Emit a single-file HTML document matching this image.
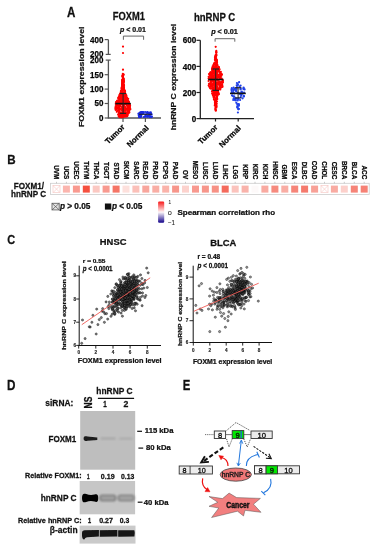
<!DOCTYPE html>
<html><head><meta charset="utf-8"><style>
html,body{margin:0;padding:0;background:#fff;}
svg{display:block;font-family:"Liberation Sans",Arial,sans-serif;}
</style></head><body>
<svg width="373" height="550" viewBox="0 0 373 550">
<rect width="373" height="550" fill="#fff"/>
<text font-size="100" font-weight="bold" fill="#111" stroke="#111" stroke-width="1.96" transform="translate(67.06 17.45) scale(0.11642 0.13913)">A</text>
<text font-size="100" font-weight="bold" fill="#111" stroke="#111" stroke-width="2.48" transform="translate(112.74 20.34) scale(0.09329 0.10845)">FOXM1</text>
<text font-size="100" font-weight="bold" fill="#111" stroke="#111" stroke-width="3.61" transform="translate(119.89 31.72) scale(0.07046 0.06813)"><tspan font-style="italic">p</tspan> &lt; 0.01</text>
<path d="M123.4 39.8 V36.1 H143.6 V39.8" fill="none" stroke="#555" stroke-width="0.9"/>
<text font-size="100" font-weight="bold" fill="#111" stroke="#111" stroke-width="3.18" transform="translate(84.39 127.12) rotate(-90) scale(0.08755 0.06952)">FOXM1 expression level</text>
<line x1="108.4" y1="39.6" x2="108.4" y2="54.4" stroke="#555" stroke-width="1.3"/>
<line x1="104.7" y1="39.6" x2="108.4" y2="39.6" stroke="#555" stroke-width="1.2"/>
<line x1="105.7" y1="54.4" x2="110.7" y2="54.4" stroke="#555" stroke-width="1.2"/>
<line x1="105.7" y1="60.1" x2="110.7" y2="60.1" stroke="#555" stroke-width="1.2"/>
<line x1="108.4" y1="60.1" x2="108.4" y2="118.2" stroke="#555" stroke-width="1.3"/>
<line x1="107.8" y1="118.0" x2="161.0" y2="118.0" stroke="#555" stroke-width="1.3"/>
<line x1="104.7" y1="74.7" x2="108.4" y2="74.7" stroke="#555" stroke-width="1.2"/>
<line x1="104.7" y1="89.1" x2="108.4" y2="89.1" stroke="#555" stroke-width="1.2"/>
<line x1="104.7" y1="103.5" x2="108.4" y2="103.5" stroke="#555" stroke-width="1.2"/>
<line x1="104.7" y1="118.0" x2="108.4" y2="118.0" stroke="#555" stroke-width="1.2"/>
<line x1="123.0" y1="118.0" x2="123.0" y2="122.0" stroke="#555" stroke-width="1.2"/>
<line x1="145.4" y1="118.0" x2="145.4" y2="122.0" stroke="#555" stroke-width="1.2"/>
<text x="103.4" y="77.5" font-size="8.3" font-weight="bold" text-anchor="end" textLength="13.350000000000001" lengthAdjust="spacingAndGlyphs" stroke="#111" stroke-width="0.25">150</text>
<text x="103.4" y="91.9" font-size="8.3" font-weight="bold" text-anchor="end" textLength="13.350000000000001" lengthAdjust="spacingAndGlyphs" stroke="#111" stroke-width="0.25">100</text>
<text x="103.4" y="106.3" font-size="8.3" font-weight="bold" text-anchor="end" textLength="8.9" lengthAdjust="spacingAndGlyphs" stroke="#111" stroke-width="0.25">50</text>
<text x="103.4" y="120.8" font-size="8.3" font-weight="bold" text-anchor="end" textLength="4.45" lengthAdjust="spacingAndGlyphs" stroke="#111" stroke-width="0.25">0</text>
<text x="103.4" y="42.8" font-size="8.3" font-weight="bold" text-anchor="end" textLength="13.3" lengthAdjust="spacingAndGlyphs" stroke="#111" stroke-width="0.25">400</text>
<text x="103.4" y="56.8" font-size="8.3" font-weight="bold" text-anchor="end" textLength="13.3" lengthAdjust="spacingAndGlyphs" stroke="#111" stroke-width="0.25">200</text>
<text x="103.4" y="62.6" font-size="8.3" font-weight="bold" text-anchor="end" textLength="13.3" lengthAdjust="spacingAndGlyphs" stroke="#111" stroke-width="0.25">200</text>
<text x="125.3" y="127.6" font-size="7.9" font-weight="bold" text-anchor="end" stroke="#111" stroke-width="0.25" transform="rotate(-45 125.3 127.6)">Tumor</text>
<text x="149.2" y="128.6" font-size="7.9" font-weight="bold" text-anchor="end" stroke="#111" stroke-width="0.25" transform="rotate(-45 149.2 128.6)">Normal</text>
<g fill="#f00"><circle cx="123.4" cy="87.6" r="1.1"/><circle cx="123.0" cy="89.5" r="1.1"/><circle cx="122.9" cy="76.5" r="1.1"/><circle cx="118.9" cy="109.8" r="1.1"/><circle cx="128.2" cy="98.8" r="1.1"/><circle cx="122.1" cy="86.1" r="1.1"/><circle cx="123.6" cy="101.5" r="1.1"/><circle cx="122.6" cy="76.2" r="1.1"/><circle cx="120.3" cy="103.3" r="1.1"/><circle cx="120.7" cy="99.2" r="1.1"/><circle cx="119.2" cy="108.4" r="1.1"/><circle cx="127.1" cy="98.7" r="1.1"/><circle cx="130.1" cy="105.5" r="1.1"/><circle cx="122.8" cy="106.7" r="1.1"/><circle cx="128.6" cy="107.0" r="1.1"/><circle cx="122.5" cy="99.6" r="1.1"/><circle cx="122.6" cy="110.4" r="1.1"/><circle cx="125.8" cy="102.6" r="1.1"/><circle cx="121.3" cy="109.6" r="1.1"/><circle cx="122.5" cy="102.8" r="1.1"/><circle cx="122.3" cy="80.8" r="1.1"/><circle cx="119.2" cy="107.2" r="1.1"/><circle cx="119.7" cy="109.4" r="1.1"/><circle cx="124.8" cy="91.7" r="1.1"/><circle cx="119.8" cy="115.5" r="1.1"/><circle cx="122.8" cy="85.0" r="1.1"/><circle cx="123.2" cy="115.3" r="1.1"/><circle cx="117.4" cy="100.6" r="1.1"/><circle cx="127.5" cy="113.0" r="1.1"/><circle cx="121.5" cy="108.5" r="1.1"/><circle cx="122.6" cy="76.1" r="1.1"/><circle cx="122.6" cy="75.7" r="1.1"/><circle cx="119.9" cy="100.4" r="1.1"/><circle cx="122.8" cy="117.1" r="1.1"/><circle cx="122.8" cy="77.2" r="1.1"/><circle cx="123.7" cy="80.5" r="1.1"/><circle cx="123.4" cy="96.6" r="1.1"/><circle cx="121.0" cy="104.0" r="1.1"/><circle cx="123.9" cy="87.9" r="1.1"/><circle cx="126.6" cy="108.9" r="1.1"/><circle cx="121.5" cy="89.0" r="1.1"/><circle cx="122.2" cy="103.9" r="1.1"/><circle cx="120.2" cy="115.4" r="1.1"/><circle cx="122.4" cy="83.4" r="1.1"/><circle cx="127.3" cy="100.9" r="1.1"/><circle cx="125.4" cy="108.6" r="1.1"/><circle cx="125.9" cy="113.4" r="1.1"/><circle cx="124.9" cy="94.4" r="1.1"/><circle cx="122.1" cy="116.2" r="1.1"/><circle cx="119.7" cy="115.1" r="1.1"/><circle cx="123.6" cy="79.0" r="1.1"/><circle cx="127.9" cy="108.9" r="1.1"/><circle cx="121.6" cy="116.5" r="1.1"/><circle cx="118.3" cy="97.5" r="1.1"/><circle cx="123.3" cy="116.1" r="1.1"/><circle cx="126.9" cy="114.5" r="1.1"/><circle cx="119.3" cy="109.8" r="1.1"/><circle cx="122.1" cy="99.2" r="1.1"/><circle cx="123.2" cy="95.5" r="1.1"/><circle cx="123.5" cy="81.5" r="1.1"/><circle cx="120.4" cy="105.3" r="1.1"/><circle cx="125.3" cy="96.2" r="1.1"/><circle cx="123.9" cy="107.4" r="1.1"/><circle cx="122.2" cy="106.8" r="1.1"/><circle cx="123.1" cy="100.4" r="1.1"/><circle cx="123.5" cy="103.9" r="1.1"/><circle cx="129.5" cy="104.2" r="1.1"/><circle cx="122.9" cy="79.4" r="1.1"/><circle cx="117.8" cy="107.9" r="1.1"/><circle cx="117.7" cy="104.9" r="1.1"/><circle cx="120.5" cy="96.1" r="1.1"/><circle cx="122.1" cy="92.8" r="1.1"/><circle cx="117.5" cy="100.9" r="1.1"/><circle cx="120.7" cy="116.2" r="1.1"/><circle cx="122.8" cy="85.3" r="1.1"/><circle cx="120.2" cy="113.5" r="1.1"/><circle cx="118.6" cy="98.5" r="1.1"/><circle cx="125.1" cy="92.1" r="1.1"/><circle cx="117.6" cy="101.3" r="1.1"/><circle cx="128.1" cy="111.1" r="1.1"/><circle cx="123.3" cy="93.4" r="1.1"/><circle cx="119.0" cy="114.2" r="1.1"/><circle cx="119.6" cy="96.6" r="1.1"/><circle cx="122.5" cy="80.5" r="1.1"/><circle cx="123.0" cy="106.8" r="1.1"/><circle cx="122.8" cy="97.6" r="1.1"/><circle cx="126.3" cy="114.5" r="1.1"/><circle cx="123.1" cy="110.1" r="1.1"/><circle cx="120.7" cy="103.7" r="1.1"/><circle cx="125.0" cy="110.0" r="1.1"/><circle cx="121.1" cy="91.2" r="1.1"/><circle cx="123.4" cy="79.1" r="1.1"/><circle cx="122.1" cy="84.6" r="1.1"/><circle cx="125.5" cy="110.4" r="1.1"/><circle cx="120.5" cy="116.2" r="1.1"/><circle cx="121.6" cy="115.9" r="1.1"/><circle cx="121.1" cy="94.3" r="1.1"/><circle cx="121.2" cy="95.6" r="1.1"/><circle cx="122.8" cy="75.2" r="1.1"/><circle cx="128.2" cy="102.3" r="1.1"/><circle cx="124.9" cy="90.5" r="1.1"/><circle cx="127.5" cy="101.7" r="1.1"/><circle cx="125.9" cy="112.6" r="1.1"/><circle cx="123.4" cy="109.1" r="1.1"/><circle cx="124.3" cy="108.8" r="1.1"/><circle cx="125.4" cy="112.7" r="1.1"/><circle cx="122.3" cy="83.5" r="1.1"/><circle cx="124.1" cy="89.3" r="1.1"/><circle cx="124.3" cy="98.0" r="1.1"/><circle cx="115.8" cy="103.3" r="1.1"/><circle cx="123.0" cy="108.5" r="1.1"/><circle cx="119.1" cy="96.9" r="1.1"/><circle cx="116.7" cy="105.8" r="1.1"/><circle cx="121.9" cy="116.3" r="1.1"/><circle cx="125.1" cy="107.1" r="1.1"/><circle cx="122.7" cy="76.8" r="1.1"/><circle cx="124.0" cy="106.1" r="1.1"/><circle cx="122.8" cy="73.9" r="1.1"/><circle cx="125.5" cy="103.0" r="1.1"/><circle cx="120.7" cy="93.8" r="1.1"/><circle cx="128.9" cy="112.7" r="1.1"/><circle cx="122.6" cy="114.6" r="1.1"/><circle cx="122.2" cy="109.5" r="1.1"/><circle cx="124.0" cy="85.2" r="1.1"/><circle cx="126.2" cy="115.3" r="1.1"/><circle cx="128.9" cy="104.3" r="1.1"/><circle cx="119.6" cy="94.8" r="1.1"/><circle cx="121.6" cy="95.0" r="1.1"/><circle cx="129.3" cy="110.3" r="1.1"/><circle cx="119.9" cy="104.8" r="1.1"/><circle cx="121.7" cy="117.3" r="1.1"/><circle cx="120.8" cy="92.2" r="1.1"/><circle cx="122.0" cy="95.9" r="1.1"/><circle cx="129.2" cy="109.1" r="1.1"/><circle cx="125.2" cy="114.8" r="1.1"/><circle cx="117.0" cy="101.8" r="1.1"/><circle cx="122.7" cy="114.2" r="1.1"/><circle cx="119.4" cy="105.9" r="1.1"/><circle cx="123.8" cy="102.3" r="1.1"/><circle cx="121.6" cy="90.8" r="1.1"/><circle cx="126.0" cy="95.3" r="1.1"/><circle cx="119.7" cy="117.2" r="1.1"/><circle cx="122.7" cy="81.9" r="1.1"/><circle cx="121.9" cy="112.4" r="1.1"/><circle cx="123.0" cy="116.0" r="1.1"/><circle cx="119.3" cy="101.1" r="1.1"/><circle cx="116.8" cy="111.8" r="1.1"/><circle cx="122.6" cy="104.6" r="1.1"/><circle cx="121.8" cy="99.2" r="1.1"/><circle cx="119.5" cy="111.0" r="1.1"/><circle cx="123.0" cy="78.2" r="1.1"/><circle cx="126.2" cy="103.4" r="1.1"/><circle cx="122.4" cy="101.9" r="1.1"/><circle cx="125.8" cy="97.7" r="1.1"/><circle cx="118.0" cy="101.8" r="1.1"/><circle cx="116.6" cy="104.1" r="1.1"/><circle cx="122.0" cy="96.5" r="1.1"/><circle cx="122.7" cy="101.8" r="1.1"/><circle cx="121.1" cy="115.7" r="1.1"/><circle cx="119.5" cy="103.1" r="1.1"/><circle cx="119.2" cy="102.8" r="1.1"/><circle cx="118.6" cy="105.9" r="1.1"/><circle cx="126.1" cy="116.1" r="1.1"/><circle cx="129.7" cy="106.9" r="1.1"/><circle cx="121.0" cy="95.2" r="1.1"/><circle cx="121.9" cy="115.1" r="1.1"/><circle cx="122.3" cy="79.6" r="1.1"/><circle cx="129.4" cy="112.3" r="1.1"/><circle cx="119.7" cy="114.4" r="1.1"/><circle cx="118.1" cy="114.6" r="1.1"/><circle cx="121.2" cy="102.6" r="1.1"/><circle cx="121.6" cy="88.0" r="1.1"/><circle cx="127.6" cy="115.4" r="1.1"/><circle cx="122.0" cy="109.5" r="1.1"/><circle cx="121.9" cy="112.9" r="1.1"/><circle cx="116.1" cy="109.1" r="1.1"/><circle cx="123.5" cy="74.9" r="1.1"/><circle cx="120.2" cy="112.9" r="1.1"/><circle cx="120.7" cy="115.5" r="1.1"/><circle cx="119.7" cy="104.9" r="1.1"/><circle cx="128.0" cy="113.7" r="1.1"/><circle cx="120.5" cy="115.4" r="1.1"/><circle cx="126.3" cy="114.2" r="1.1"/><circle cx="127.1" cy="105.9" r="1.1"/><circle cx="120.8" cy="100.1" r="1.1"/><circle cx="116.5" cy="106.5" r="1.1"/><circle cx="122.1" cy="85.1" r="1.1"/><circle cx="122.6" cy="93.1" r="1.1"/><circle cx="126.1" cy="100.7" r="1.1"/><circle cx="117.6" cy="110.7" r="1.1"/><circle cx="124.0" cy="110.4" r="1.1"/><circle cx="123.8" cy="84.2" r="1.1"/><circle cx="121.9" cy="98.8" r="1.1"/><circle cx="120.5" cy="117.1" r="1.1"/><circle cx="130.3" cy="109.0" r="1.1"/><circle cx="129.2" cy="109.4" r="1.1"/><circle cx="127.1" cy="116.2" r="1.1"/><circle cx="124.5" cy="93.2" r="1.1"/><circle cx="124.0" cy="115.0" r="1.1"/><circle cx="121.4" cy="100.7" r="1.1"/><circle cx="116.3" cy="102.1" r="1.1"/><circle cx="119.2" cy="97.5" r="1.1"/><circle cx="118.6" cy="101.5" r="1.1"/><circle cx="119.8" cy="104.0" r="1.1"/><circle cx="123.8" cy="89.4" r="1.1"/><circle cx="123.8" cy="82.4" r="1.1"/><circle cx="120.2" cy="93.7" r="1.1"/><circle cx="127.0" cy="97.7" r="1.1"/><circle cx="118.5" cy="108.8" r="1.1"/><circle cx="118.7" cy="116.3" r="1.1"/><circle cx="127.4" cy="114.2" r="1.1"/><circle cx="118.7" cy="100.7" r="1.1"/><circle cx="121.6" cy="108.0" r="1.1"/><circle cx="118.4" cy="110.6" r="1.1"/><circle cx="119.9" cy="96.2" r="1.1"/><circle cx="123.8" cy="112.9" r="1.1"/><circle cx="128.0" cy="106.7" r="1.1"/><circle cx="121.1" cy="97.6" r="1.1"/><circle cx="124.8" cy="94.9" r="1.1"/><circle cx="118.2" cy="107.7" r="1.1"/><circle cx="120.7" cy="94.2" r="1.1"/><circle cx="122.7" cy="92.3" r="1.1"/><circle cx="124.1" cy="95.8" r="1.1"/><circle cx="116.3" cy="107.6" r="1.1"/><circle cx="126.4" cy="95.6" r="1.1"/><circle cx="130.2" cy="109.3" r="1.1"/><circle cx="126.3" cy="113.7" r="1.1"/><circle cx="121.4" cy="114.3" r="1.1"/><circle cx="128.9" cy="106.7" r="1.1"/><circle cx="120.4" cy="113.9" r="1.1"/><circle cx="119.4" cy="95.7" r="1.1"/><circle cx="123.8" cy="81.4" r="1.1"/><circle cx="118.2" cy="103.3" r="1.1"/><circle cx="123.5" cy="107.9" r="1.1"/><circle cx="127.9" cy="101.4" r="1.1"/><circle cx="126.8" cy="97.8" r="1.1"/><circle cx="126.8" cy="101.1" r="1.1"/><circle cx="125.9" cy="98.8" r="1.1"/><circle cx="124.3" cy="92.9" r="1.1"/><circle cx="124.5" cy="116.7" r="1.1"/><circle cx="121.8" cy="87.2" r="1.1"/><circle cx="119.6" cy="112.8" r="1.1"/><circle cx="116.2" cy="102.1" r="1.1"/><circle cx="122.5" cy="89.0" r="1.1"/><circle cx="124.4" cy="99.3" r="1.1"/><circle cx="125.8" cy="94.3" r="1.1"/><circle cx="122.2" cy="84.1" r="1.1"/><circle cx="126.7" cy="101.5" r="1.1"/><circle cx="120.9" cy="91.1" r="1.1"/><circle cx="121.0" cy="101.8" r="1.1"/><circle cx="128.9" cy="101.8" r="1.1"/><circle cx="129.0" cy="105.7" r="1.1"/><circle cx="121.1" cy="91.3" r="1.1"/><circle cx="123.8" cy="107.7" r="1.1"/><circle cx="119.9" cy="114.8" r="1.1"/><circle cx="124.7" cy="100.2" r="1.1"/><circle cx="120.1" cy="109.2" r="1.1"/><circle cx="123.9" cy="86.6" r="1.1"/><circle cx="115.6" cy="107.9" r="1.1"/><circle cx="122.5" cy="110.6" r="1.1"/><circle cx="118.9" cy="106.0" r="1.1"/><circle cx="128.1" cy="106.4" r="1.1"/><circle cx="123.8" cy="104.7" r="1.1"/><circle cx="124.2" cy="96.4" r="1.1"/><circle cx="126.7" cy="115.9" r="1.1"/><circle cx="121.3" cy="115.0" r="1.1"/><circle cx="119.6" cy="112.1" r="1.1"/><circle cx="125.3" cy="113.3" r="1.1"/><circle cx="122.6" cy="102.7" r="1.1"/><circle cx="128.2" cy="110.3" r="1.1"/><circle cx="119.9" cy="98.5" r="1.1"/><circle cx="128.2" cy="100.8" r="1.1"/><circle cx="122.4" cy="79.8" r="1.1"/><circle cx="119.1" cy="114.3" r="1.1"/><circle cx="123.2" cy="74.7" r="1.1"/><circle cx="126.1" cy="101.3" r="1.1"/><circle cx="116.5" cy="109.5" r="1.1"/><circle cx="129.0" cy="111.6" r="1.1"/><circle cx="123.5" cy="78.3" r="1.1"/><circle cx="127.9" cy="109.1" r="1.1"/><circle cx="117.8" cy="101.2" r="1.1"/><circle cx="121.8" cy="92.0" r="1.1"/><circle cx="126.4" cy="115.8" r="1.1"/><circle cx="121.9" cy="100.6" r="1.1"/><circle cx="126.3" cy="97.1" r="1.1"/><circle cx="122.5" cy="80.9" r="1.1"/><circle cx="115.6" cy="106.9" r="1.1"/><circle cx="125.1" cy="95.0" r="1.1"/><circle cx="123.5" cy="85.9" r="1.1"/><circle cx="124.0" cy="95.3" r="1.1"/><circle cx="124.9" cy="104.1" r="1.1"/><circle cx="125.9" cy="95.5" r="1.1"/><circle cx="120.7" cy="106.5" r="1.1"/><circle cx="123.9" cy="87.8" r="1.1"/><circle cx="118.4" cy="102.5" r="1.1"/><circle cx="122.6" cy="98.9" r="1.1"/><circle cx="119.1" cy="112.3" r="1.1"/><circle cx="118.0" cy="110.5" r="1.1"/><circle cx="121.6" cy="96.4" r="1.1"/><circle cx="129.9" cy="105.5" r="1.1"/><circle cx="118.5" cy="105.7" r="1.1"/><circle cx="119.1" cy="101.5" r="1.1"/><circle cx="122.6" cy="90.5" r="1.1"/><circle cx="123.0" cy="108.2" r="1.1"/><circle cx="118.4" cy="101.2" r="1.1"/><circle cx="125.9" cy="100.0" r="1.1"/><circle cx="123.9" cy="113.4" r="1.1"/><circle cx="119.0" cy="106.4" r="1.1"/><circle cx="127.1" cy="105.2" r="1.1"/><circle cx="125.7" cy="104.2" r="1.1"/><circle cx="120.5" cy="101.6" r="1.1"/><circle cx="122.0" cy="101.0" r="1.1"/><circle cx="124.9" cy="107.8" r="1.1"/><circle cx="124.7" cy="114.3" r="1.1"/><circle cx="122.8" cy="107.6" r="1.1"/><circle cx="123.4" cy="116.3" r="1.1"/><circle cx="118.9" cy="114.8" r="1.1"/><circle cx="125.4" cy="98.7" r="1.1"/><circle cx="121.7" cy="109.9" r="1.1"/><circle cx="124.8" cy="115.1" r="1.1"/><circle cx="122.3" cy="89.0" r="1.1"/><circle cx="122.7" cy="91.0" r="1.1"/><circle cx="122.1" cy="88.9" r="1.1"/><circle cx="123.4" cy="106.0" r="1.1"/><circle cx="121.5" cy="90.6" r="1.1"/><circle cx="125.0" cy="107.6" r="1.1"/><circle cx="122.5" cy="109.4" r="1.1"/><circle cx="123.4" cy="81.6" r="1.1"/><circle cx="128.9" cy="102.4" r="1.1"/><circle cx="127.6" cy="111.0" r="1.1"/><circle cx="118.8" cy="113.3" r="1.1"/><circle cx="115.7" cy="110.0" r="1.1"/><circle cx="117.5" cy="102.3" r="1.1"/><circle cx="117.8" cy="107.6" r="1.1"/><circle cx="119.1" cy="113.2" r="1.1"/><circle cx="126.5" cy="112.6" r="1.1"/><circle cx="127.1" cy="102.8" r="1.1"/><circle cx="125.8" cy="110.3" r="1.1"/><circle cx="120.4" cy="97.8" r="1.1"/><circle cx="125.7" cy="95.3" r="1.1"/><circle cx="121.2" cy="102.7" r="1.1"/><circle cx="124.4" cy="101.4" r="1.1"/><circle cx="120.5" cy="103.4" r="1.1"/><circle cx="122.9" cy="116.6" r="1.1"/><circle cx="125.7" cy="112.9" r="1.1"/><circle cx="127.6" cy="100.9" r="1.1"/><circle cx="127.9" cy="109.8" r="1.1"/><circle cx="125.8" cy="116.3" r="1.1"/><circle cx="117.0" cy="101.3" r="1.1"/><circle cx="123.7" cy="105.2" r="1.1"/><circle cx="124.8" cy="113.9" r="1.1"/><circle cx="124.7" cy="108.1" r="1.1"/><circle cx="125.4" cy="100.5" r="1.1"/><circle cx="119.6" cy="99.6" r="1.1"/><circle cx="126.7" cy="102.7" r="1.1"/><circle cx="121.5" cy="113.6" r="1.1"/><circle cx="123.9" cy="109.6" r="1.1"/><circle cx="122.7" cy="92.0" r="1.1"/><circle cx="117.1" cy="101.6" r="1.1"/><circle cx="119.0" cy="98.4" r="1.1"/><circle cx="129.3" cy="109.1" r="1.1"/><circle cx="122.4" cy="93.0" r="1.1"/><circle cx="122.2" cy="116.6" r="1.1"/><circle cx="122.1" cy="82.7" r="1.1"/><circle cx="123.3" cy="79.1" r="1.1"/><circle cx="123.5" cy="81.6" r="1.1"/><circle cx="126.4" cy="104.8" r="1.1"/><circle cx="129.4" cy="104.6" r="1.1"/><circle cx="115.8" cy="105.0" r="1.1"/><circle cx="117.3" cy="102.0" r="1.1"/><circle cx="122.1" cy="94.8" r="1.1"/><circle cx="124.9" cy="98.7" r="1.1"/><circle cx="121.5" cy="101.1" r="1.1"/><circle cx="127.3" cy="108.0" r="1.1"/><circle cx="118.4" cy="98.3" r="1.1"/><circle cx="126.1" cy="116.3" r="1.1"/><circle cx="122.2" cy="99.9" r="1.1"/><circle cx="125.3" cy="112.5" r="1.1"/><circle cx="115.5" cy="108.9" r="1.1"/><circle cx="127.4" cy="99.2" r="1.1"/><circle cx="124.1" cy="109.1" r="1.1"/><circle cx="129.2" cy="108.9" r="1.1"/><circle cx="123.2" cy="88.7" r="1.1"/><circle cx="126.7" cy="108.5" r="1.1"/><circle cx="124.1" cy="114.4" r="1.1"/><circle cx="118.8" cy="103.2" r="1.1"/><circle cx="116.8" cy="108.2" r="1.1"/><circle cx="119.0" cy="108.9" r="1.1"/><circle cx="122.7" cy="112.3" r="1.1"/><circle cx="119.5" cy="99.3" r="1.1"/><circle cx="123.8" cy="80.0" r="1.1"/><circle cx="123.5" cy="89.9" r="1.1"/><circle cx="124.5" cy="108.0" r="1.1"/><circle cx="123.5" cy="74.3" r="1.1"/><circle cx="123.9" cy="111.5" r="1.1"/><circle cx="129.9" cy="107.2" r="1.1"/><circle cx="122.4" cy="84.6" r="1.1"/><circle cx="122.2" cy="81.4" r="1.1"/><circle cx="124.1" cy="113.4" r="1.1"/><circle cx="124.9" cy="90.9" r="1.1"/></g>
<g fill="#f00"><circle cx="123" cy="46.6" r="1.1"/><circle cx="123" cy="53" r="1.1"/><circle cx="123" cy="69.7" r="1.1"/></g>
<line x1="115.4" y1="103.6" x2="130.8" y2="103.6" stroke="#111" stroke-width="1.6"/>
<line x1="119.8" y1="93.5" x2="126.1" y2="93.5" stroke="#222" stroke-width="1.2"/>
<line x1="119.8" y1="113.4" x2="126.1" y2="113.4" stroke="#222" stroke-width="1.2"/>
<line x1="123.1" y1="93.5" x2="123.1" y2="113.4" stroke="#222" stroke-width="1.0"/>
<g fill="#1a2be0"><circle cx="147.3" cy="113.3" r="1.1"/><circle cx="143.9" cy="117.0" r="1.1"/><circle cx="151.7" cy="114.3" r="1.1"/><circle cx="139.1" cy="117.2" r="1.1"/><circle cx="150.9" cy="113.3" r="1.1"/><circle cx="139.2" cy="116.7" r="1.1"/><circle cx="147.4" cy="116.1" r="1.1"/><circle cx="140.6" cy="117.1" r="1.1"/><circle cx="147.8" cy="115.9" r="1.1"/><circle cx="148.9" cy="113.5" r="1.1"/><circle cx="142.1" cy="112.5" r="1.1"/><circle cx="140.9" cy="112.6" r="1.1"/><circle cx="147.8" cy="113.2" r="1.1"/><circle cx="141.3" cy="112.0" r="1.1"/><circle cx="141.6" cy="112.1" r="1.1"/><circle cx="150.7" cy="116.9" r="1.1"/><circle cx="139.9" cy="112.6" r="1.1"/><circle cx="147.1" cy="116.8" r="1.1"/><circle cx="149.8" cy="114.3" r="1.1"/><circle cx="140.5" cy="114.4" r="1.1"/><circle cx="148.3" cy="113.1" r="1.1"/><circle cx="150.4" cy="114.8" r="1.1"/><circle cx="140.7" cy="113.3" r="1.1"/><circle cx="143.1" cy="113.3" r="1.1"/><circle cx="142.9" cy="112.8" r="1.1"/><circle cx="151.9" cy="116.7" r="1.1"/><circle cx="147.7" cy="112.2" r="1.1"/><circle cx="142.5" cy="113.0" r="1.1"/><circle cx="143.6" cy="113.3" r="1.1"/><circle cx="151.2" cy="117.2" r="1.1"/><circle cx="150.8" cy="112.4" r="1.1"/><circle cx="142.6" cy="112.2" r="1.1"/><circle cx="149.6" cy="117.1" r="1.1"/><circle cx="138.6" cy="113.7" r="1.1"/><circle cx="141.1" cy="116.3" r="1.1"/><circle cx="141.6" cy="114.2" r="1.1"/><circle cx="141.0" cy="114.9" r="1.1"/><circle cx="141.3" cy="116.0" r="1.1"/><circle cx="146.9" cy="112.3" r="1.1"/><circle cx="141.4" cy="114.5" r="1.1"/><circle cx="149.6" cy="115.1" r="1.1"/><circle cx="139.5" cy="115.0" r="1.1"/><circle cx="148.4" cy="115.8" r="1.1"/><circle cx="143.2" cy="112.2" r="1.1"/><circle cx="145.3" cy="116.4" r="1.1"/><circle cx="145.1" cy="112.0" r="1.1"/><circle cx="141.1" cy="116.5" r="1.1"/><circle cx="140.8" cy="116.3" r="1.1"/><circle cx="138.7" cy="113.9" r="1.1"/><circle cx="145.6" cy="114.7" r="1.1"/><circle cx="149.7" cy="112.5" r="1.1"/><circle cx="148.3" cy="116.5" r="1.1"/><circle cx="139.4" cy="113.9" r="1.1"/><circle cx="145.3" cy="116.5" r="1.1"/><circle cx="145.9" cy="114.6" r="1.1"/><circle cx="141.6" cy="112.0" r="1.1"/><circle cx="142.0" cy="112.9" r="1.1"/><circle cx="139.9" cy="116.2" r="1.1"/><circle cx="138.8" cy="115.6" r="1.1"/><circle cx="145.7" cy="115.1" r="1.1"/></g>
<line x1="139.0" y1="114.3" x2="152.0" y2="114.3" stroke="#222" stroke-width="1.0"/>
<text font-size="100" font-weight="bold" fill="#111" stroke="#111" stroke-width="2.47" transform="translate(193.88 20.64) scale(0.09597 0.10612)">hnRNP C</text>
<text font-size="100" font-weight="bold" fill="#111" stroke="#111" stroke-width="3.66" transform="translate(211.18 33.50) scale(0.07240 0.06429)"><tspan font-style="italic">p</tspan> &lt; 0.01</text>
<path d="M215.1 41.7 V38.7 H234.8 V41.7" fill="none" stroke="#555" stroke-width="0.9"/>
<text font-size="100" font-weight="bold" fill="#111" stroke="#111" stroke-width="3.30" transform="translate(176.28 130.35) rotate(-90) scale(0.08618 0.06524)">hnRNP C expression level</text>
<line x1="200.3" y1="40.3" x2="200.3" y2="119.0" stroke="#222" stroke-width="1.3"/>
<line x1="199.7" y1="118.6" x2="254.0" y2="118.6" stroke="#222" stroke-width="1.3"/>
<line x1="196.5" y1="40.3" x2="200.3" y2="40.3" stroke="#222" stroke-width="1.2"/>
<text x="196.3" y="43.4" font-size="8.4" font-weight="bold" text-anchor="end" textLength="13.5" lengthAdjust="spacingAndGlyphs" stroke="#111" stroke-width="0.25">600</text>
<line x1="196.5" y1="66.4" x2="200.3" y2="66.4" stroke="#222" stroke-width="1.2"/>
<text x="196.3" y="69.5" font-size="8.4" font-weight="bold" text-anchor="end" textLength="13.5" lengthAdjust="spacingAndGlyphs" stroke="#111" stroke-width="0.25">400</text>
<line x1="196.5" y1="92.5" x2="200.3" y2="92.5" stroke="#222" stroke-width="1.2"/>
<text x="196.3" y="95.6" font-size="8.4" font-weight="bold" text-anchor="end" textLength="13.5" lengthAdjust="spacingAndGlyphs" stroke="#111" stroke-width="0.25">200</text>
<line x1="196.5" y1="118.6" x2="200.3" y2="118.6" stroke="#222" stroke-width="1.2"/>
<text x="196.3" y="121.7" font-size="8.4" font-weight="bold" text-anchor="end" textLength="4.5" lengthAdjust="spacingAndGlyphs" stroke="#111" stroke-width="0.25">0</text>
<line x1="215.5" y1="118.6" x2="215.5" y2="121.5" stroke="#222" stroke-width="1.2"/>
<line x1="238.2" y1="118.6" x2="238.2" y2="121.5" stroke="#222" stroke-width="1.2"/>
<text x="218.3" y="127.9" font-size="7.9" font-weight="bold" text-anchor="end" stroke="#111" stroke-width="0.25" transform="rotate(-45 218.3 127.9)">Tumor</text>
<text x="241.4" y="128.8" font-size="7.9" font-weight="bold" text-anchor="end" stroke="#111" stroke-width="0.25" transform="rotate(-45 241.4 128.8)">Normal</text>
<g fill="#f00"><circle cx="218.6" cy="93.0" r="1.1"/><circle cx="213.0" cy="93.9" r="1.1"/><circle cx="212.5" cy="80.5" r="1.1"/><circle cx="215.9" cy="102.5" r="1.1"/><circle cx="217.6" cy="95.6" r="1.1"/><circle cx="216.1" cy="76.1" r="1.1"/><circle cx="219.4" cy="74.6" r="1.1"/><circle cx="214.0" cy="71.2" r="1.1"/><circle cx="220.1" cy="77.0" r="1.1"/><circle cx="215.8" cy="101.7" r="1.1"/><circle cx="216.5" cy="65.8" r="1.1"/><circle cx="210.5" cy="72.7" r="1.1"/><circle cx="208.7" cy="76.8" r="1.1"/><circle cx="220.1" cy="88.8" r="1.1"/><circle cx="216.0" cy="103.9" r="1.1"/><circle cx="218.6" cy="67.3" r="1.1"/><circle cx="215.9" cy="88.1" r="1.1"/><circle cx="212.6" cy="76.9" r="1.1"/><circle cx="212.5" cy="69.2" r="1.1"/><circle cx="215.9" cy="86.5" r="1.1"/><circle cx="215.9" cy="67.0" r="1.1"/><circle cx="214.9" cy="59.8" r="1.1"/><circle cx="214.0" cy="68.5" r="1.1"/><circle cx="216.0" cy="65.5" r="1.1"/><circle cx="211.3" cy="85.1" r="1.1"/><circle cx="216.1" cy="93.5" r="1.1"/><circle cx="213.3" cy="87.6" r="1.1"/><circle cx="215.8" cy="65.4" r="1.1"/><circle cx="209.4" cy="73.9" r="1.1"/><circle cx="222.8" cy="80.3" r="1.1"/><circle cx="216.6" cy="60.4" r="1.1"/><circle cx="214.1" cy="77.3" r="1.1"/><circle cx="210.0" cy="77.2" r="1.1"/><circle cx="214.7" cy="95.1" r="1.1"/><circle cx="217.0" cy="72.0" r="1.1"/><circle cx="219.3" cy="81.9" r="1.1"/><circle cx="216.4" cy="105.7" r="1.1"/><circle cx="222.5" cy="86.0" r="1.1"/><circle cx="219.8" cy="85.2" r="1.1"/><circle cx="215.2" cy="73.6" r="1.1"/><circle cx="214.9" cy="94.2" r="1.1"/><circle cx="213.1" cy="84.2" r="1.1"/><circle cx="211.1" cy="80.8" r="1.1"/><circle cx="216.3" cy="69.1" r="1.1"/><circle cx="221.8" cy="85.7" r="1.1"/><circle cx="214.8" cy="105.4" r="1.1"/><circle cx="221.8" cy="84.7" r="1.1"/><circle cx="214.1" cy="81.9" r="1.1"/><circle cx="214.0" cy="72.3" r="1.1"/><circle cx="213.9" cy="82.4" r="1.1"/><circle cx="216.7" cy="74.9" r="1.1"/><circle cx="217.5" cy="80.1" r="1.1"/><circle cx="210.9" cy="82.7" r="1.1"/><circle cx="212.6" cy="76.1" r="1.1"/><circle cx="211.1" cy="81.5" r="1.1"/><circle cx="222.4" cy="87.0" r="1.1"/><circle cx="214.7" cy="89.0" r="1.1"/><circle cx="216.5" cy="98.1" r="1.1"/><circle cx="215.7" cy="90.9" r="1.1"/><circle cx="217.8" cy="84.0" r="1.1"/><circle cx="216.8" cy="82.7" r="1.1"/><circle cx="210.8" cy="75.5" r="1.1"/><circle cx="213.6" cy="96.4" r="1.1"/><circle cx="213.9" cy="99.2" r="1.1"/><circle cx="216.7" cy="97.1" r="1.1"/><circle cx="213.1" cy="72.1" r="1.1"/><circle cx="215.0" cy="85.8" r="1.1"/><circle cx="220.8" cy="74.0" r="1.1"/><circle cx="214.8" cy="85.8" r="1.1"/><circle cx="210.1" cy="88.0" r="1.1"/><circle cx="216.1" cy="99.8" r="1.1"/><circle cx="212.0" cy="74.2" r="1.1"/><circle cx="212.0" cy="79.9" r="1.1"/><circle cx="212.7" cy="68.3" r="1.1"/><circle cx="214.3" cy="82.9" r="1.1"/><circle cx="216.2" cy="54.8" r="1.1"/><circle cx="212.3" cy="71.9" r="1.1"/><circle cx="212.3" cy="67.9" r="1.1"/><circle cx="212.4" cy="90.7" r="1.1"/><circle cx="213.9" cy="93.2" r="1.1"/><circle cx="215.5" cy="100.9" r="1.1"/><circle cx="218.9" cy="94.2" r="1.1"/><circle cx="215.0" cy="81.1" r="1.1"/><circle cx="212.0" cy="86.1" r="1.1"/><circle cx="220.6" cy="87.3" r="1.1"/><circle cx="219.7" cy="83.4" r="1.1"/><circle cx="216.6" cy="74.0" r="1.1"/><circle cx="212.1" cy="69.5" r="1.1"/><circle cx="212.1" cy="70.1" r="1.1"/><circle cx="215.7" cy="84.6" r="1.1"/><circle cx="214.2" cy="68.7" r="1.1"/><circle cx="216.8" cy="64.5" r="1.1"/><circle cx="218.7" cy="67.8" r="1.1"/><circle cx="215.1" cy="102.5" r="1.1"/><circle cx="214.9" cy="90.7" r="1.1"/><circle cx="213.3" cy="90.4" r="1.1"/><circle cx="211.2" cy="88.6" r="1.1"/><circle cx="212.3" cy="93.6" r="1.1"/><circle cx="215.2" cy="60.6" r="1.1"/><circle cx="213.3" cy="73.7" r="1.1"/><circle cx="219.4" cy="89.1" r="1.1"/><circle cx="212.1" cy="85.1" r="1.1"/><circle cx="213.5" cy="77.0" r="1.1"/><circle cx="213.7" cy="97.4" r="1.1"/><circle cx="216.8" cy="95.8" r="1.1"/><circle cx="220.1" cy="74.5" r="1.1"/><circle cx="218.9" cy="67.7" r="1.1"/><circle cx="218.5" cy="76.3" r="1.1"/><circle cx="210.5" cy="88.5" r="1.1"/><circle cx="215.8" cy="92.7" r="1.1"/><circle cx="216.1" cy="106.5" r="1.1"/><circle cx="215.9" cy="99.2" r="1.1"/><circle cx="209.3" cy="83.5" r="1.1"/><circle cx="212.2" cy="72.3" r="1.1"/><circle cx="217.5" cy="69.5" r="1.1"/><circle cx="213.3" cy="91.1" r="1.1"/><circle cx="222.1" cy="81.8" r="1.1"/><circle cx="220.0" cy="72.0" r="1.1"/><circle cx="210.9" cy="83.7" r="1.1"/><circle cx="215.3" cy="90.8" r="1.1"/><circle cx="210.5" cy="72.5" r="1.1"/><circle cx="217.2" cy="67.7" r="1.1"/><circle cx="213.1" cy="77.7" r="1.1"/><circle cx="210.9" cy="79.0" r="1.1"/><circle cx="216.5" cy="55.2" r="1.1"/><circle cx="216.9" cy="95.9" r="1.1"/><circle cx="216.3" cy="76.9" r="1.1"/><circle cx="220.3" cy="89.5" r="1.1"/><circle cx="213.2" cy="90.0" r="1.1"/><circle cx="216.3" cy="59.2" r="1.1"/><circle cx="218.8" cy="70.5" r="1.1"/><circle cx="216.2" cy="70.1" r="1.1"/><circle cx="212.5" cy="73.0" r="1.1"/><circle cx="218.1" cy="88.5" r="1.1"/><circle cx="210.7" cy="80.5" r="1.1"/><circle cx="212.3" cy="68.8" r="1.1"/><circle cx="215.2" cy="92.1" r="1.1"/><circle cx="215.2" cy="109.0" r="1.1"/><circle cx="219.0" cy="77.2" r="1.1"/><circle cx="218.1" cy="76.4" r="1.1"/><circle cx="213.3" cy="81.7" r="1.1"/><circle cx="220.5" cy="77.2" r="1.1"/><circle cx="215.3" cy="105.0" r="1.1"/><circle cx="213.5" cy="77.4" r="1.1"/><circle cx="215.1" cy="62.6" r="1.1"/><circle cx="221.7" cy="78.5" r="1.1"/><circle cx="216.3" cy="99.5" r="1.1"/><circle cx="216.6" cy="87.4" r="1.1"/><circle cx="214.1" cy="89.7" r="1.1"/><circle cx="215.0" cy="103.9" r="1.1"/><circle cx="212.0" cy="91.6" r="1.1"/><circle cx="216.5" cy="90.5" r="1.1"/><circle cx="216.6" cy="75.8" r="1.1"/><circle cx="211.4" cy="74.6" r="1.1"/><circle cx="215.9" cy="66.1" r="1.1"/><circle cx="216.0" cy="66.0" r="1.1"/><circle cx="214.4" cy="86.1" r="1.1"/><circle cx="218.0" cy="94.1" r="1.1"/><circle cx="221.8" cy="74.4" r="1.1"/><circle cx="210.4" cy="84.6" r="1.1"/><circle cx="214.5" cy="97.4" r="1.1"/><circle cx="216.9" cy="73.2" r="1.1"/><circle cx="216.6" cy="63.7" r="1.1"/><circle cx="217.5" cy="76.4" r="1.1"/><circle cx="217.6" cy="71.3" r="1.1"/><circle cx="215.3" cy="100.4" r="1.1"/><circle cx="216.4" cy="94.1" r="1.1"/><circle cx="217.3" cy="99.0" r="1.1"/><circle cx="212.9" cy="91.3" r="1.1"/><circle cx="216.9" cy="77.7" r="1.1"/><circle cx="215.0" cy="57.7" r="1.1"/><circle cx="215.9" cy="98.9" r="1.1"/><circle cx="220.5" cy="73.7" r="1.1"/><circle cx="220.2" cy="83.2" r="1.1"/><circle cx="215.5" cy="107.7" r="1.1"/><circle cx="216.2" cy="53.0" r="1.1"/><circle cx="215.5" cy="91.6" r="1.1"/><circle cx="217.2" cy="74.5" r="1.1"/><circle cx="210.9" cy="86.2" r="1.1"/><circle cx="216.6" cy="72.5" r="1.1"/><circle cx="209.2" cy="74.1" r="1.1"/><circle cx="208.7" cy="85.6" r="1.1"/><circle cx="209.1" cy="78.4" r="1.1"/><circle cx="215.7" cy="67.2" r="1.1"/><circle cx="222.9" cy="82.5" r="1.1"/><circle cx="213.2" cy="88.9" r="1.1"/><circle cx="216.5" cy="95.2" r="1.1"/><circle cx="214.7" cy="71.9" r="1.1"/><circle cx="212.0" cy="79.7" r="1.1"/><circle cx="213.7" cy="65.0" r="1.1"/><circle cx="216.7" cy="78.0" r="1.1"/><circle cx="212.1" cy="69.0" r="1.1"/><circle cx="217.6" cy="69.0" r="1.1"/><circle cx="213.4" cy="83.9" r="1.1"/><circle cx="215.8" cy="55.7" r="1.1"/><circle cx="215.7" cy="102.9" r="1.1"/><circle cx="213.6" cy="66.3" r="1.1"/><circle cx="214.3" cy="64.0" r="1.1"/><circle cx="217.7" cy="87.0" r="1.1"/><circle cx="215.8" cy="59.1" r="1.1"/><circle cx="217.5" cy="89.8" r="1.1"/><circle cx="214.8" cy="71.1" r="1.1"/><circle cx="216.7" cy="70.9" r="1.1"/><circle cx="212.7" cy="66.3" r="1.1"/><circle cx="215.8" cy="110.1" r="1.1"/><circle cx="212.9" cy="94.3" r="1.1"/><circle cx="216.3" cy="60.3" r="1.1"/><circle cx="217.0" cy="76.3" r="1.1"/><circle cx="217.2" cy="84.1" r="1.1"/><circle cx="213.3" cy="70.7" r="1.1"/><circle cx="216.9" cy="97.4" r="1.1"/><circle cx="218.8" cy="67.6" r="1.1"/><circle cx="215.7" cy="58.8" r="1.1"/><circle cx="215.1" cy="56.3" r="1.1"/><circle cx="222.1" cy="84.2" r="1.1"/><circle cx="211.8" cy="72.8" r="1.1"/><circle cx="216.4" cy="60.6" r="1.1"/><circle cx="213.4" cy="80.8" r="1.1"/><circle cx="209.6" cy="75.0" r="1.1"/><circle cx="221.8" cy="84.7" r="1.1"/><circle cx="214.5" cy="64.3" r="1.1"/><circle cx="211.4" cy="76.9" r="1.1"/><circle cx="215.6" cy="67.8" r="1.1"/><circle cx="216.1" cy="104.3" r="1.1"/><circle cx="216.8" cy="86.7" r="1.1"/><circle cx="216.6" cy="103.8" r="1.1"/><circle cx="220.0" cy="72.5" r="1.1"/><circle cx="216.4" cy="52.4" r="1.1"/><circle cx="216.0" cy="56.7" r="1.1"/><circle cx="213.6" cy="64.8" r="1.1"/><circle cx="213.6" cy="80.9" r="1.1"/><circle cx="213.5" cy="80.6" r="1.1"/><circle cx="214.1" cy="67.3" r="1.1"/><circle cx="215.7" cy="55.0" r="1.1"/><circle cx="213.8" cy="75.3" r="1.1"/><circle cx="216.2" cy="90.0" r="1.1"/><circle cx="214.6" cy="74.8" r="1.1"/><circle cx="211.1" cy="74.0" r="1.1"/><circle cx="215.8" cy="110.7" r="1.1"/><circle cx="212.3" cy="87.5" r="1.1"/><circle cx="217.0" cy="62.8" r="1.1"/><circle cx="216.2" cy="70.3" r="1.1"/><circle cx="211.8" cy="86.4" r="1.1"/><circle cx="214.3" cy="88.6" r="1.1"/><circle cx="215.9" cy="93.6" r="1.1"/><circle cx="213.4" cy="87.6" r="1.1"/><circle cx="212.5" cy="88.6" r="1.1"/><circle cx="221.0" cy="87.6" r="1.1"/><circle cx="216.0" cy="79.2" r="1.1"/><circle cx="210.5" cy="79.4" r="1.1"/><circle cx="220.3" cy="82.3" r="1.1"/><circle cx="217.5" cy="65.2" r="1.1"/><circle cx="220.5" cy="78.5" r="1.1"/><circle cx="215.2" cy="58.3" r="1.1"/><circle cx="214.2" cy="78.0" r="1.1"/><circle cx="220.1" cy="77.8" r="1.1"/><circle cx="216.7" cy="96.4" r="1.1"/><circle cx="212.5" cy="72.9" r="1.1"/><circle cx="214.2" cy="73.1" r="1.1"/><circle cx="211.0" cy="85.1" r="1.1"/><circle cx="214.4" cy="93.9" r="1.1"/><circle cx="215.5" cy="102.3" r="1.1"/><circle cx="215.0" cy="73.2" r="1.1"/><circle cx="213.2" cy="72.9" r="1.1"/><circle cx="220.1" cy="75.3" r="1.1"/><circle cx="216.6" cy="72.0" r="1.1"/><circle cx="216.5" cy="106.3" r="1.1"/><circle cx="216.9" cy="93.5" r="1.1"/><circle cx="218.2" cy="70.6" r="1.1"/><circle cx="215.7" cy="73.6" r="1.1"/><circle cx="220.7" cy="78.6" r="1.1"/><circle cx="221.3" cy="75.8" r="1.1"/><circle cx="215.9" cy="77.2" r="1.1"/><circle cx="212.9" cy="95.3" r="1.1"/><circle cx="218.1" cy="91.6" r="1.1"/><circle cx="214.4" cy="97.0" r="1.1"/><circle cx="216.1" cy="57.0" r="1.1"/><circle cx="218.3" cy="84.7" r="1.1"/><circle cx="212.4" cy="93.5" r="1.1"/><circle cx="216.4" cy="92.3" r="1.1"/><circle cx="215.3" cy="103.1" r="1.1"/><circle cx="222.8" cy="81.9" r="1.1"/><circle cx="214.4" cy="67.4" r="1.1"/><circle cx="214.5" cy="84.2" r="1.1"/><circle cx="214.9" cy="102.2" r="1.1"/><circle cx="215.6" cy="73.3" r="1.1"/><circle cx="220.1" cy="85.9" r="1.1"/><circle cx="213.0" cy="84.2" r="1.1"/><circle cx="216.6" cy="82.8" r="1.1"/><circle cx="218.5" cy="70.3" r="1.1"/><circle cx="214.9" cy="78.1" r="1.1"/><circle cx="215.5" cy="103.5" r="1.1"/><circle cx="219.7" cy="89.2" r="1.1"/><circle cx="215.7" cy="84.5" r="1.1"/><circle cx="213.8" cy="91.3" r="1.1"/><circle cx="214.0" cy="63.3" r="1.1"/><circle cx="212.2" cy="75.7" r="1.1"/><circle cx="216.2" cy="60.2" r="1.1"/><circle cx="216.3" cy="68.5" r="1.1"/><circle cx="212.6" cy="70.0" r="1.1"/><circle cx="216.6" cy="101.3" r="1.1"/><circle cx="216.2" cy="89.3" r="1.1"/><circle cx="216.9" cy="94.5" r="1.1"/><circle cx="213.5" cy="82.4" r="1.1"/><circle cx="215.7" cy="106.6" r="1.1"/><circle cx="210.4" cy="83.3" r="1.1"/><circle cx="216.9" cy="101.5" r="1.1"/><circle cx="219.2" cy="77.8" r="1.1"/><circle cx="216.2" cy="68.8" r="1.1"/><circle cx="215.9" cy="78.5" r="1.1"/><circle cx="217.5" cy="72.0" r="1.1"/><circle cx="216.8" cy="60.7" r="1.1"/><circle cx="216.6" cy="59.8" r="1.1"/><circle cx="215.2" cy="83.0" r="1.1"/><circle cx="211.3" cy="81.3" r="1.1"/><circle cx="210.5" cy="75.1" r="1.1"/><circle cx="208.6" cy="81.0" r="1.1"/><circle cx="217.8" cy="92.2" r="1.1"/><circle cx="221.4" cy="81.9" r="1.1"/><circle cx="209.3" cy="86.8" r="1.1"/><circle cx="219.6" cy="87.9" r="1.1"/><circle cx="208.6" cy="78.6" r="1.1"/><circle cx="212.1" cy="75.3" r="1.1"/><circle cx="215.1" cy="59.3" r="1.1"/><circle cx="219.8" cy="79.6" r="1.1"/><circle cx="217.1" cy="89.0" r="1.1"/><circle cx="220.8" cy="71.8" r="1.1"/><circle cx="219.9" cy="77.0" r="1.1"/><circle cx="216.4" cy="107.6" r="1.1"/><circle cx="217.0" cy="98.1" r="1.1"/><circle cx="215.5" cy="64.8" r="1.1"/><circle cx="217.8" cy="93.5" r="1.1"/><circle cx="217.8" cy="75.2" r="1.1"/><circle cx="219.9" cy="86.5" r="1.1"/><circle cx="216.2" cy="51.9" r="1.1"/><circle cx="215.1" cy="76.0" r="1.1"/><circle cx="214.2" cy="71.0" r="1.1"/><circle cx="213.9" cy="68.4" r="1.1"/><circle cx="217.0" cy="92.9" r="1.1"/><circle cx="216.4" cy="99.2" r="1.1"/><circle cx="217.0" cy="61.9" r="1.1"/><circle cx="220.3" cy="72.6" r="1.1"/><circle cx="214.3" cy="87.5" r="1.1"/><circle cx="215.8" cy="80.8" r="1.1"/><circle cx="215.8" cy="100.7" r="1.1"/><circle cx="216.3" cy="50.9" r="1.1"/><circle cx="212.1" cy="78.1" r="1.1"/><circle cx="216.3" cy="72.0" r="1.1"/><circle cx="220.7" cy="73.5" r="1.1"/><circle cx="216.9" cy="90.8" r="1.1"/><circle cx="213.7" cy="77.5" r="1.1"/><circle cx="214.5" cy="90.5" r="1.1"/><circle cx="221.6" cy="82.2" r="1.1"/><circle cx="222.7" cy="80.7" r="1.1"/><circle cx="215.2" cy="91.8" r="1.1"/><circle cx="215.9" cy="104.3" r="1.1"/><circle cx="214.1" cy="85.4" r="1.1"/><circle cx="215.1" cy="68.3" r="1.1"/><circle cx="216.2" cy="67.5" r="1.1"/><circle cx="215.9" cy="71.7" r="1.1"/><circle cx="216.3" cy="103.5" r="1.1"/><circle cx="215.5" cy="62.7" r="1.1"/><circle cx="221.9" cy="74.5" r="1.1"/><circle cx="218.4" cy="66.9" r="1.1"/><circle cx="217.7" cy="77.9" r="1.1"/><circle cx="214.2" cy="97.5" r="1.1"/><circle cx="219.4" cy="84.4" r="1.1"/><circle cx="218.6" cy="67.4" r="1.1"/><circle cx="217.6" cy="82.6" r="1.1"/><circle cx="222.1" cy="84.8" r="1.1"/><circle cx="212.9" cy="66.8" r="1.1"/><circle cx="218.3" cy="83.8" r="1.1"/><circle cx="210.1" cy="75.6" r="1.1"/><circle cx="219.6" cy="69.3" r="1.1"/><circle cx="218.8" cy="88.9" r="1.1"/><circle cx="219.0" cy="74.5" r="1.1"/><circle cx="218.9" cy="71.4" r="1.1"/><circle cx="219.8" cy="71.8" r="1.1"/><circle cx="218.2" cy="82.8" r="1.1"/><circle cx="215.4" cy="104.9" r="1.1"/><circle cx="218.2" cy="81.0" r="1.1"/><circle cx="216.8" cy="85.5" r="1.1"/><circle cx="213.9" cy="93.1" r="1.1"/><circle cx="214.7" cy="100.3" r="1.1"/><circle cx="216.6" cy="64.3" r="1.1"/><circle cx="210.7" cy="72.4" r="1.1"/><circle cx="209.0" cy="84.1" r="1.1"/><circle cx="214.8" cy="100.5" r="1.1"/><circle cx="213.7" cy="88.6" r="1.1"/><circle cx="220.0" cy="85.0" r="1.1"/><circle cx="217.6" cy="76.3" r="1.1"/><circle cx="216.9" cy="74.9" r="1.1"/><circle cx="215.7" cy="110.0" r="1.1"/><circle cx="211.2" cy="78.1" r="1.1"/><circle cx="211.5" cy="75.0" r="1.1"/><circle cx="215.3" cy="95.0" r="1.1"/><circle cx="215.9" cy="62.7" r="1.1"/><circle cx="213.6" cy="94.0" r="1.1"/><circle cx="213.5" cy="66.7" r="1.1"/><circle cx="213.0" cy="69.2" r="1.1"/></g>
<circle cx="215.7" cy="46.8" r="1.1" fill="#f00"/>
<line x1="208.2" y1="79.5" x2="223.4" y2="79.5" stroke="#111" stroke-width="1.6"/>
<line x1="212.5" y1="69.0" x2="219.0" y2="69.0" stroke="#222" stroke-width="1.2"/>
<line x1="212.5" y1="90.4" x2="219.0" y2="90.4" stroke="#222" stroke-width="1.2"/>
<line x1="215.7" y1="69.0" x2="215.7" y2="90.4" stroke="#222" stroke-width="1.0"/>
<g fill="#2040e8"><circle cx="242.3" cy="92.5" r="1.1"/><circle cx="232.6" cy="95.8" r="1.1"/><circle cx="243.9" cy="96.3" r="1.1"/><circle cx="237.5" cy="107.8" r="1.1"/><circle cx="234.8" cy="99.3" r="1.1"/><circle cx="243.5" cy="89.1" r="1.1"/><circle cx="236.7" cy="85.3" r="1.1"/><circle cx="233.2" cy="100.0" r="1.1"/><circle cx="243.6" cy="96.1" r="1.1"/><circle cx="235.7" cy="98.4" r="1.1"/><circle cx="233.9" cy="96.7" r="1.1"/><circle cx="236.6" cy="88.9" r="1.1"/><circle cx="237.9" cy="85.0" r="1.1"/><circle cx="240.1" cy="100.0" r="1.1"/><circle cx="241.2" cy="95.3" r="1.1"/><circle cx="241.1" cy="94.0" r="1.1"/><circle cx="240.6" cy="88.7" r="1.1"/><circle cx="243.9" cy="96.3" r="1.1"/><circle cx="235.8" cy="100.5" r="1.1"/><circle cx="242.6" cy="93.7" r="1.1"/><circle cx="239.1" cy="82.2" r="1.1"/><circle cx="237.4" cy="107.1" r="1.1"/><circle cx="234.4" cy="88.8" r="1.1"/><circle cx="231.7" cy="89.5" r="1.1"/><circle cx="238.9" cy="105.7" r="1.1"/><circle cx="238.7" cy="104.1" r="1.1"/><circle cx="238.1" cy="99.1" r="1.1"/><circle cx="237.4" cy="107.0" r="1.1"/><circle cx="236.8" cy="98.7" r="1.1"/><circle cx="233.6" cy="87.7" r="1.1"/><circle cx="241.2" cy="92.4" r="1.1"/><circle cx="233.4" cy="90.8" r="1.1"/><circle cx="237.4" cy="106.0" r="1.1"/><circle cx="237.7" cy="100.5" r="1.1"/><circle cx="240.2" cy="94.2" r="1.1"/><circle cx="235.8" cy="90.7" r="1.1"/><circle cx="231.8" cy="89.1" r="1.1"/><circle cx="243.6" cy="88.4" r="1.1"/><circle cx="241.8" cy="91.6" r="1.1"/><circle cx="242.6" cy="98.3" r="1.1"/><circle cx="236.3" cy="91.2" r="1.1"/><circle cx="233.6" cy="98.5" r="1.1"/><circle cx="238.6" cy="98.3" r="1.1"/><circle cx="237.9" cy="112.5" r="1.1"/><circle cx="231.6" cy="90.3" r="1.1"/><circle cx="244.6" cy="89.4" r="1.1"/><circle cx="239.5" cy="86.7" r="1.1"/><circle cx="240.6" cy="89.3" r="1.1"/><circle cx="243.6" cy="87.7" r="1.1"/><circle cx="236.9" cy="83.0" r="1.1"/><circle cx="232.8" cy="92.7" r="1.1"/><circle cx="240.8" cy="97.0" r="1.1"/><circle cx="233.8" cy="89.8" r="1.1"/><circle cx="237.8" cy="84.2" r="1.1"/><circle cx="238.9" cy="104.7" r="1.1"/><circle cx="231.7" cy="92.1" r="1.1"/><circle cx="236.3" cy="102.8" r="1.1"/><circle cx="235.0" cy="100.1" r="1.1"/><circle cx="240.6" cy="85.6" r="1.1"/><circle cx="239.1" cy="93.4" r="1.1"/><circle cx="231.8" cy="88.2" r="1.1"/><circle cx="238.7" cy="108.8" r="1.1"/><circle cx="233.2" cy="92.8" r="1.1"/><circle cx="232.8" cy="92.9" r="1.1"/><circle cx="235.3" cy="89.0" r="1.1"/><circle cx="234.3" cy="93.4" r="1.1"/><circle cx="237.0" cy="87.2" r="1.1"/><circle cx="237.7" cy="92.8" r="1.1"/><circle cx="238.3" cy="109.3" r="1.1"/><circle cx="237.3" cy="104.2" r="1.1"/><circle cx="234.3" cy="96.6" r="1.1"/><circle cx="232.0" cy="95.3" r="1.1"/><circle cx="244.1" cy="92.7" r="1.1"/><circle cx="234.7" cy="99.0" r="1.1"/><circle cx="238.7" cy="109.0" r="1.1"/></g>
<line x1="230.0" y1="93.4" x2="245.8" y2="93.4" stroke="#111" stroke-width="1.6"/>
<line x1="234.8" y1="87.7" x2="241.4" y2="87.7" stroke="#222" stroke-width="1.1"/>
<line x1="234.8" y1="97.9" x2="241.4" y2="97.9" stroke="#222" stroke-width="1.1"/>
<line x1="238.1" y1="87.7" x2="238.1" y2="97.9" stroke="#222" stroke-width="1.0"/>
<text font-size="100" font-weight="bold" fill="#111" stroke="#111" stroke-width="2.09" transform="translate(7.29 163.85) scale(0.11639 0.12319)">B</text>
<text font-size="100" font-weight="bold" fill="#111" stroke="#111" stroke-width="3.04" transform="translate(13.82 188.88) scale(0.08110 0.08322)">FOXM1/</text>
<text font-size="100" font-weight="bold" fill="#111" stroke="#111" stroke-width="3.02" transform="translate(11.08 196.57) scale(0.08128 0.08435)">hnRNP C</text>
<rect x="50.4" y="183.3" width="318.8" height="11.1" fill="none" stroke="#ccc" stroke-width="0.8"/>
<line x1="56.5" y1="183.3" x2="56.5" y2="181.8" stroke="#aaa" stroke-width="0.6"/>
<text x="54.1" y="179.2" font-size="6.3" font-weight="bold" text-anchor="end" stroke="#111" stroke-width="0.25" transform="rotate(90 54.1 179.2)">UVM</text>
<rect x="53.0" y="185.6" width="7.0" height="7.0" fill="#fff" stroke="#f6c4c0" stroke-width="0.6"/>
<line x1="53.0" y1="185.6" x2="60.0" y2="192.6" stroke="#f6c4c0" stroke-width="0.6"/>
<line x1="60.0" y1="185.6" x2="53.0" y2="192.6" stroke="#f6c4c0" stroke-width="0.6"/>
<line x1="66.4" y1="183.3" x2="66.4" y2="181.8" stroke="#aaa" stroke-width="0.6"/>
<text x="64.0" y="179.2" font-size="6.3" font-weight="bold" text-anchor="end" stroke="#111" stroke-width="0.25" transform="rotate(90 64.0 179.2)">UCS</text>
<rect x="62.9" y="185.6" width="7.0" height="7.0" fill="#fbb5ae"/>
<line x1="76.4" y1="183.3" x2="76.4" y2="181.8" stroke="#aaa" stroke-width="0.6"/>
<text x="74.0" y="179.2" font-size="6.3" font-weight="bold" text-anchor="end" stroke="#111" stroke-width="0.25" transform="rotate(90 74.0 179.2)">UCEC</text>
<rect x="72.9" y="185.6" width="7.0" height="7.0" fill="#f99a90"/>
<line x1="86.3" y1="183.3" x2="86.3" y2="181.8" stroke="#aaa" stroke-width="0.6"/>
<text x="83.9" y="179.2" font-size="6.3" font-weight="bold" text-anchor="end" stroke="#111" stroke-width="0.25" transform="rotate(90 83.9 179.2)">THYM</text>
<rect x="82.8" y="185.6" width="7.0" height="7.0" fill="#f5503f"/>
<line x1="96.2" y1="183.3" x2="96.2" y2="181.8" stroke="#aaa" stroke-width="0.6"/>
<text x="93.8" y="179.2" font-size="6.3" font-weight="bold" text-anchor="end" stroke="#111" stroke-width="0.25" transform="rotate(90 93.8 179.2)">THCA</text>
<rect x="92.7" y="185.6" width="7.0" height="7.0" fill="#fbc8c2"/>
<line x1="106.1" y1="183.3" x2="106.1" y2="181.8" stroke="#aaa" stroke-width="0.6"/>
<text x="103.7" y="179.2" font-size="6.3" font-weight="bold" text-anchor="end" stroke="#111" stroke-width="0.25" transform="rotate(90 103.7 179.2)">TGCT</text>
<rect x="102.6" y="185.6" width="7.0" height="7.0" fill="#f89a90"/>
<line x1="116.1" y1="183.3" x2="116.1" y2="181.8" stroke="#aaa" stroke-width="0.6"/>
<text x="113.7" y="179.2" font-size="6.3" font-weight="bold" text-anchor="end" stroke="#111" stroke-width="0.25" transform="rotate(90 113.7 179.2)">STAD</text>
<rect x="112.6" y="185.6" width="7.0" height="7.0" fill="#f57566"/>
<line x1="126.0" y1="183.3" x2="126.0" y2="181.8" stroke="#aaa" stroke-width="0.6"/>
<text x="123.6" y="179.2" font-size="6.3" font-weight="bold" text-anchor="end" stroke="#111" stroke-width="0.25" transform="rotate(90 123.6 179.2)">SKCM</text>
<rect x="122.5" y="185.6" width="7.0" height="7.0" fill="#fde0dc"/>
<line x1="135.9" y1="183.3" x2="135.9" y2="181.8" stroke="#aaa" stroke-width="0.6"/>
<text x="133.5" y="179.2" font-size="6.3" font-weight="bold" text-anchor="end" stroke="#111" stroke-width="0.25" transform="rotate(90 133.5 179.2)">SARC</text>
<rect x="132.4" y="185.6" width="7.0" height="7.0" fill="#fbc0b9"/>
<line x1="145.8" y1="183.3" x2="145.8" y2="181.8" stroke="#aaa" stroke-width="0.6"/>
<text x="143.4" y="179.2" font-size="6.3" font-weight="bold" text-anchor="end" stroke="#111" stroke-width="0.25" transform="rotate(90 143.4 179.2)">READ</text>
<rect x="142.3" y="185.6" width="7.0" height="7.0" fill="#f8a69d"/>
<line x1="155.8" y1="183.3" x2="155.8" y2="181.8" stroke="#aaa" stroke-width="0.6"/>
<text x="153.4" y="179.2" font-size="6.3" font-weight="bold" text-anchor="end" stroke="#111" stroke-width="0.25" transform="rotate(90 153.4 179.2)">PRAD</text>
<rect x="152.3" y="185.6" width="7.0" height="7.0" fill="#f9aea5"/>
<line x1="165.7" y1="183.3" x2="165.7" y2="181.8" stroke="#aaa" stroke-width="0.6"/>
<text x="163.3" y="179.2" font-size="6.3" font-weight="bold" text-anchor="end" stroke="#111" stroke-width="0.25" transform="rotate(90 163.3 179.2)">PCPG</text>
<rect x="162.2" y="185.6" width="7.0" height="7.0" fill="#fab3aa"/>
<line x1="175.6" y1="183.3" x2="175.6" y2="181.8" stroke="#aaa" stroke-width="0.6"/>
<text x="173.2" y="179.2" font-size="6.3" font-weight="bold" text-anchor="end" stroke="#111" stroke-width="0.25" transform="rotate(90 173.2 179.2)">PAAD</text>
<rect x="172.1" y="185.6" width="7.0" height="7.0" fill="#f7968b"/>
<line x1="185.5" y1="183.3" x2="185.5" y2="181.8" stroke="#aaa" stroke-width="0.6"/>
<text x="183.1" y="179.2" font-size="6.3" font-weight="bold" text-anchor="end" stroke="#111" stroke-width="0.25" transform="rotate(90 183.1 179.2)">OV</text>
<rect x="182.0" y="185.6" width="7.0" height="7.0" fill="#fcd2cd"/>
<line x1="195.5" y1="183.3" x2="195.5" y2="181.8" stroke="#aaa" stroke-width="0.6"/>
<text x="193.1" y="179.2" font-size="6.3" font-weight="bold" text-anchor="end" stroke="#111" stroke-width="0.25" transform="rotate(90 193.1 179.2)">MESO</text>
<rect x="192.0" y="185.6" width="7.0" height="7.0" fill="#f8998f"/>
<line x1="205.4" y1="183.3" x2="205.4" y2="181.8" stroke="#aaa" stroke-width="0.6"/>
<text x="203.0" y="179.2" font-size="6.3" font-weight="bold" text-anchor="end" stroke="#111" stroke-width="0.25" transform="rotate(90 203.0 179.2)">LUSC</text>
<rect x="201.9" y="185.6" width="7.0" height="7.0" fill="#f7968b"/>
<line x1="215.3" y1="183.3" x2="215.3" y2="181.8" stroke="#aaa" stroke-width="0.6"/>
<text x="212.9" y="179.2" font-size="6.3" font-weight="bold" text-anchor="end" stroke="#111" stroke-width="0.25" transform="rotate(90 212.9 179.2)">LUAD</text>
<rect x="211.8" y="185.6" width="7.0" height="7.0" fill="#f79185"/>
<line x1="225.2" y1="183.3" x2="225.2" y2="181.8" stroke="#aaa" stroke-width="0.6"/>
<text x="222.8" y="179.2" font-size="6.3" font-weight="bold" text-anchor="end" stroke="#111" stroke-width="0.25" transform="rotate(90 222.8 179.2)">LIHC</text>
<rect x="221.7" y="185.6" width="7.0" height="7.0" fill="#f46a5c"/>
<line x1="235.2" y1="183.3" x2="235.2" y2="181.8" stroke="#aaa" stroke-width="0.6"/>
<text x="232.8" y="179.2" font-size="6.3" font-weight="bold" text-anchor="end" stroke="#111" stroke-width="0.25" transform="rotate(90 232.8 179.2)">LGG</text>
<rect x="231.7" y="185.6" width="7.0" height="7.0" fill="#fbc3bd"/>
<line x1="245.1" y1="183.3" x2="245.1" y2="181.8" stroke="#aaa" stroke-width="0.6"/>
<text x="242.7" y="179.2" font-size="6.3" font-weight="bold" text-anchor="end" stroke="#111" stroke-width="0.25" transform="rotate(90 242.7 179.2)">KIRP</text>
<rect x="241.6" y="185.6" width="7.0" height="7.0" fill="#f9b3ab"/>
<line x1="255.0" y1="183.3" x2="255.0" y2="181.8" stroke="#aaa" stroke-width="0.6"/>
<text x="252.6" y="179.2" font-size="6.3" font-weight="bold" text-anchor="end" stroke="#111" stroke-width="0.25" transform="rotate(90 252.6 179.2)">KIRC</text>
<rect x="251.5" y="185.6" width="7.0" height="7.0" fill="#fdf9f9"/>
<line x1="264.9" y1="183.3" x2="264.9" y2="181.8" stroke="#aaa" stroke-width="0.6"/>
<text x="262.5" y="179.2" font-size="6.3" font-weight="bold" text-anchor="end" stroke="#111" stroke-width="0.25" transform="rotate(90 262.5 179.2)">KICH</text>
<rect x="261.4" y="185.6" width="7.0" height="7.0" fill="#f9aaa1"/>
<line x1="274.9" y1="183.3" x2="274.9" y2="181.8" stroke="#aaa" stroke-width="0.6"/>
<text x="272.5" y="179.2" font-size="6.3" font-weight="bold" text-anchor="end" stroke="#111" stroke-width="0.25" transform="rotate(90 272.5 179.2)">HNSC</text>
<rect x="271.4" y="185.6" width="7.0" height="7.0" fill="#f68a7e"/>
<line x1="284.8" y1="183.3" x2="284.8" y2="181.8" stroke="#aaa" stroke-width="0.6"/>
<text x="282.4" y="179.2" font-size="6.3" font-weight="bold" text-anchor="end" stroke="#111" stroke-width="0.25" transform="rotate(90 282.4 179.2)">GBM</text>
<rect x="281.3" y="185.6" width="7.0" height="7.0" fill="#f9ada4"/>
<line x1="294.7" y1="183.3" x2="294.7" y2="181.8" stroke="#aaa" stroke-width="0.6"/>
<text x="292.3" y="179.2" font-size="6.3" font-weight="bold" text-anchor="end" stroke="#111" stroke-width="0.25" transform="rotate(90 292.3 179.2)">ESCA</text>
<rect x="291.2" y="185.6" width="7.0" height="7.0" fill="#f68579"/>
<line x1="304.6" y1="183.3" x2="304.6" y2="181.8" stroke="#aaa" stroke-width="0.6"/>
<text x="302.2" y="179.2" font-size="6.3" font-weight="bold" text-anchor="end" stroke="#111" stroke-width="0.25" transform="rotate(90 302.2 179.2)">DLBC</text>
<rect x="301.1" y="185.6" width="7.0" height="7.0" fill="#f57a6d"/>
<line x1="314.6" y1="183.3" x2="314.6" y2="181.8" stroke="#aaa" stroke-width="0.6"/>
<text x="312.2" y="179.2" font-size="6.3" font-weight="bold" text-anchor="end" stroke="#111" stroke-width="0.25" transform="rotate(90 312.2 179.2)">COAD</text>
<rect x="311.1" y="185.6" width="7.0" height="7.0" fill="#f8a197"/>
<line x1="324.5" y1="183.3" x2="324.5" y2="181.8" stroke="#aaa" stroke-width="0.6"/>
<text x="322.1" y="179.2" font-size="6.3" font-weight="bold" text-anchor="end" stroke="#111" stroke-width="0.25" transform="rotate(90 322.1 179.2)">CHOL</text>
<rect x="321.0" y="185.6" width="7.0" height="7.0" fill="#fff" stroke="#f6c4c0" stroke-width="0.6"/>
<line x1="321.0" y1="185.6" x2="328.0" y2="192.6" stroke="#f6c4c0" stroke-width="0.6"/>
<line x1="328.0" y1="185.6" x2="321.0" y2="192.6" stroke="#f6c4c0" stroke-width="0.6"/>
<line x1="334.4" y1="183.3" x2="334.4" y2="181.8" stroke="#aaa" stroke-width="0.6"/>
<text x="332.0" y="179.2" font-size="6.3" font-weight="bold" text-anchor="end" stroke="#111" stroke-width="0.25" transform="rotate(90 332.0 179.2)">CESC</text>
<rect x="330.9" y="185.6" width="7.0" height="7.0" fill="#f9aba2"/>
<line x1="344.3" y1="183.3" x2="344.3" y2="181.8" stroke="#aaa" stroke-width="0.6"/>
<text x="341.9" y="179.2" font-size="6.3" font-weight="bold" text-anchor="end" stroke="#111" stroke-width="0.25" transform="rotate(90 341.9 179.2)">BRCA</text>
<rect x="340.8" y="185.6" width="7.0" height="7.0" fill="#fcd0cb"/>
<line x1="354.3" y1="183.3" x2="354.3" y2="181.8" stroke="#aaa" stroke-width="0.6"/>
<text x="351.9" y="179.2" font-size="6.3" font-weight="bold" text-anchor="end" stroke="#111" stroke-width="0.25" transform="rotate(90 351.9 179.2)">BLCA</text>
<rect x="350.8" y="185.6" width="7.0" height="7.0" fill="#f68478"/>
<line x1="364.2" y1="183.3" x2="364.2" y2="181.8" stroke="#aaa" stroke-width="0.6"/>
<text x="361.8" y="179.2" font-size="6.3" font-weight="bold" text-anchor="end" stroke="#111" stroke-width="0.25" transform="rotate(90 361.8 179.2)">ACC</text>
<rect x="360.7" y="185.6" width="7.0" height="7.0" fill="#f68175"/>
<rect x="52.0" y="203.3" width="7.2" height="6.6" fill="#e4e4e4" stroke="#666" stroke-width="0.9"/>
<line x1="52.0" y1="203.3" x2="59.2" y2="209.9" stroke="#555" stroke-width="0.7"/>
<line x1="59.2" y1="203.3" x2="52.0" y2="209.9" stroke="#555" stroke-width="0.7"/>
<text font-size="100" font-weight="bold" fill="#111" stroke="#111" stroke-width="3.05" transform="translate(59.91 208.84) scale(0.08266 0.08132)"><tspan font-style="italic">p</tspan> &gt; 0.05</text>
<rect x="104.9" y="203.5" width="6.4" height="6.1" fill="#111"/>
<text font-size="100" font-weight="bold" fill="#111" stroke="#111" stroke-width="3.05" transform="translate(111.91 208.84) scale(0.08266 0.08132)"><tspan font-style="italic">p</tspan> &lt; 0.05</text>
<defs><linearGradient id="cb" x1="0" y1="0" x2="0" y2="1"><stop offset="0" stop-color="#f81818"/><stop offset="0.5" stop-color="#fdf6f8"/><stop offset="1" stop-color="#12028a"/></linearGradient></defs>
<rect x="158.1" y="201.5" width="6.1" height="21.3" fill="url(#cb)" rx="1.2"/>
<text font-size="100" fill="#222" stroke="#222" stroke-width="1.58" transform="translate(168.56 203.50) scale(0.04598 0.05507)">1</text>
<text font-size="100" fill="#222" stroke="#222" stroke-width="1.20" transform="translate(167.81 214.74) scale(0.07368 0.05915)">0</text>
<text font-size="100" fill="#222" stroke="#222" stroke-width="1.24" transform="translate(167.99 224.90) scale(0.06220 0.06667)">−1</text>
<text font-size="100" font-weight="bold" fill="#111" stroke="#111" stroke-width="3.38" transform="translate(177.41 215.44) scale(0.08050 0.06738)">Spearman correlation rho</text>
<text font-size="100" font-weight="bold" fill="#111" stroke="#111" stroke-width="2.09" transform="translate(7.21 244.12) scale(0.10992 0.12958)">C</text>
<text font-size="100" font-weight="bold" fill="#111" stroke="#111" stroke-width="2.69" transform="translate(99.84 245.46) scale(0.09380 0.09225)">HNSC</text>
<text font-size="100" font-weight="bold" fill="#111" stroke="#111" stroke-width="4.03" transform="translate(82.83 262.99) scale(0.06499 0.05915)">r = 0.55</text>
<text font-size="100" font-weight="bold" fill="#111" stroke="#111" stroke-width="3.91" transform="translate(82.85 271.37) scale(0.06186 0.06593)"><tspan font-style="italic">p</tspan> &lt; 0.0001</text>
<text font-size="100" font-weight="bold" fill="#111" stroke="#111" stroke-width="4.00" transform="translate(66.03 349.75) rotate(-90) scale(0.07163 0.05348)">hnRNP C expression level</text>
<line x1="79.2" y1="265.7" x2="79.2" y2="346.0" stroke="#111" stroke-width="1"/>
<line x1="78.7" y1="345.5" x2="161.0" y2="345.5" stroke="#111" stroke-width="1"/>
<line x1="76.2" y1="275.8" x2="79.2" y2="275.8" stroke="#111" stroke-width="0.9"/>
<text x="76.0" y="277.4" font-size="4.6" font-weight="bold" text-anchor="end" fill="#222" stroke="#222" stroke-width="0.15">9</text>
<line x1="76.2" y1="299.0" x2="79.2" y2="299.0" stroke="#111" stroke-width="0.9"/>
<text x="76.0" y="300.6" font-size="4.6" font-weight="bold" text-anchor="end" fill="#222" stroke="#222" stroke-width="0.15">8</text>
<line x1="76.2" y1="322.2" x2="79.2" y2="322.2" stroke="#111" stroke-width="0.9"/>
<text x="76.0" y="323.8" font-size="4.6" font-weight="bold" text-anchor="end" fill="#222" stroke="#222" stroke-width="0.15">7</text>
<line x1="76.2" y1="345.4" x2="79.2" y2="345.4" stroke="#111" stroke-width="0.9"/>
<text x="76.0" y="347.0" font-size="4.6" font-weight="bold" text-anchor="end" fill="#222" stroke="#222" stroke-width="0.15">6</text>
<line x1="78.7" y1="345.5" x2="78.7" y2="348.6" stroke="#111" stroke-width="0.9"/>
<text x="78.7" y="354.4" font-size="4.6" font-weight="bold" text-anchor="middle" fill="#222" stroke="#222" stroke-width="0.15">0</text>
<line x1="95.8" y1="345.5" x2="95.8" y2="348.6" stroke="#111" stroke-width="0.9"/>
<text x="95.8" y="354.4" font-size="4.6" font-weight="bold" text-anchor="middle" fill="#222" stroke="#222" stroke-width="0.15">2</text>
<line x1="113.0" y1="345.5" x2="113.0" y2="348.6" stroke="#111" stroke-width="0.9"/>
<text x="113.0" y="354.4" font-size="4.6" font-weight="bold" text-anchor="middle" fill="#222" stroke="#222" stroke-width="0.15">4</text>
<line x1="130.1" y1="345.5" x2="130.1" y2="348.6" stroke="#111" stroke-width="0.9"/>
<text x="130.1" y="354.4" font-size="4.6" font-weight="bold" text-anchor="middle" fill="#222" stroke="#222" stroke-width="0.15">6</text>
<line x1="147.3" y1="345.5" x2="147.3" y2="348.6" stroke="#111" stroke-width="0.9"/>
<text x="147.3" y="354.4" font-size="4.6" font-weight="bold" text-anchor="middle" fill="#222" stroke="#222" stroke-width="0.15">8</text>
<text font-size="100" font-weight="bold" fill="#111" stroke="#111" stroke-width="3.56" transform="translate(77.67 362.54) scale(0.07312 0.06738)">FOXM1 expression level</text>
<g fill="#555" fill-opacity="0.75" stroke="#000" stroke-width="0.45" stroke-opacity="0.9"><circle cx="131.7" cy="301.1" r="1.1"/><circle cx="129.1" cy="302.3" r="1.1"/><circle cx="126.3" cy="299.2" r="1.1"/><circle cx="123.8" cy="304.3" r="1.1"/><circle cx="118.6" cy="286.3" r="1.1"/><circle cx="91.9" cy="322.3" r="1.1"/><circle cx="126.2" cy="300.7" r="1.1"/><circle cx="132.0" cy="294.5" r="1.1"/><circle cx="120.8" cy="307.8" r="1.1"/><circle cx="116.8" cy="285.0" r="1.1"/><circle cx="126.8" cy="294.6" r="1.1"/><circle cx="126.9" cy="305.3" r="1.1"/><circle cx="124.5" cy="289.0" r="1.1"/><circle cx="133.0" cy="298.5" r="1.1"/><circle cx="112.4" cy="302.2" r="1.1"/><circle cx="126.5" cy="298.7" r="1.1"/><circle cx="133.8" cy="295.3" r="1.1"/><circle cx="125.6" cy="291.6" r="1.1"/><circle cx="127.0" cy="277.9" r="1.1"/><circle cx="120.8" cy="298.8" r="1.1"/><circle cx="124.5" cy="293.6" r="1.1"/><circle cx="126.1" cy="301.5" r="1.1"/><circle cx="127.4" cy="301.7" r="1.1"/><circle cx="123.5" cy="291.3" r="1.1"/><circle cx="116.8" cy="300.5" r="1.1"/><circle cx="129.8" cy="300.4" r="1.1"/><circle cx="117.4" cy="295.6" r="1.1"/><circle cx="134.5" cy="279.8" r="1.1"/><circle cx="137.6" cy="293.0" r="1.1"/><circle cx="121.4" cy="294.1" r="1.1"/><circle cx="127.6" cy="301.2" r="1.1"/><circle cx="132.1" cy="308.5" r="1.1"/><circle cx="124.7" cy="278.5" r="1.1"/><circle cx="115.1" cy="300.8" r="1.1"/><circle cx="124.9" cy="297.9" r="1.1"/><circle cx="137.0" cy="290.7" r="1.1"/><circle cx="115.7" cy="306.8" r="1.1"/><circle cx="125.4" cy="302.9" r="1.1"/><circle cx="126.2" cy="309.4" r="1.1"/><circle cx="121.1" cy="281.6" r="1.1"/><circle cx="127.3" cy="288.2" r="1.1"/><circle cx="127.1" cy="297.9" r="1.1"/><circle cx="128.9" cy="288.6" r="1.1"/><circle cx="124.2" cy="291.7" r="1.1"/><circle cx="115.3" cy="297.6" r="1.1"/><circle cx="123.0" cy="298.6" r="1.1"/><circle cx="112.2" cy="314.2" r="1.1"/><circle cx="118.6" cy="297.0" r="1.1"/><circle cx="137.8" cy="276.4" r="1.1"/><circle cx="128.2" cy="289.1" r="1.1"/><circle cx="112.3" cy="291.4" r="1.1"/><circle cx="112.4" cy="308.3" r="1.1"/><circle cx="131.4" cy="294.0" r="1.1"/><circle cx="124.8" cy="297.2" r="1.1"/><circle cx="121.9" cy="295.4" r="1.1"/><circle cx="129.4" cy="289.6" r="1.1"/><circle cx="125.9" cy="297.8" r="1.1"/><circle cx="124.9" cy="288.2" r="1.1"/><circle cx="114.7" cy="302.1" r="1.1"/><circle cx="129.8" cy="294.9" r="1.1"/><circle cx="130.1" cy="300.3" r="1.1"/><circle cx="127.4" cy="295.3" r="1.1"/><circle cx="139.8" cy="281.0" r="1.1"/><circle cx="135.9" cy="291.2" r="1.1"/><circle cx="129.0" cy="276.5" r="1.1"/><circle cx="124.4" cy="290.2" r="1.1"/><circle cx="125.1" cy="288.4" r="1.1"/><circle cx="125.9" cy="287.4" r="1.1"/><circle cx="120.0" cy="284.8" r="1.1"/><circle cx="136.0" cy="281.4" r="1.1"/><circle cx="131.1" cy="288.9" r="1.1"/><circle cx="145.8" cy="295.5" r="1.1"/><circle cx="126.4" cy="300.3" r="1.1"/><circle cx="125.3" cy="297.1" r="1.1"/><circle cx="122.3" cy="299.4" r="1.1"/><circle cx="131.0" cy="295.7" r="1.1"/><circle cx="117.4" cy="311.1" r="1.1"/><circle cx="127.9" cy="281.5" r="1.1"/><circle cx="146.7" cy="268.1" r="1.1"/><circle cx="135.9" cy="285.7" r="1.1"/><circle cx="132.9" cy="298.5" r="1.1"/><circle cx="124.2" cy="293.7" r="1.1"/><circle cx="124.4" cy="310.4" r="1.1"/><circle cx="127.9" cy="296.6" r="1.1"/><circle cx="128.4" cy="296.3" r="1.1"/><circle cx="126.3" cy="294.2" r="1.1"/><circle cx="127.9" cy="290.0" r="1.1"/><circle cx="113.7" cy="295.6" r="1.1"/><circle cx="108.1" cy="306.5" r="1.1"/><circle cx="124.7" cy="293.3" r="1.1"/><circle cx="140.4" cy="297.4" r="1.1"/><circle cx="116.4" cy="302.4" r="1.1"/><circle cx="120.9" cy="295.8" r="1.1"/><circle cx="127.8" cy="285.6" r="1.1"/><circle cx="123.8" cy="296.6" r="1.1"/><circle cx="125.9" cy="296.8" r="1.1"/><circle cx="124.5" cy="307.4" r="1.1"/><circle cx="116.0" cy="284.2" r="1.1"/><circle cx="130.7" cy="300.2" r="1.1"/><circle cx="118.2" cy="302.9" r="1.1"/><circle cx="125.7" cy="299.9" r="1.1"/><circle cx="132.5" cy="293.5" r="1.1"/><circle cx="131.6" cy="285.8" r="1.1"/><circle cx="129.1" cy="298.3" r="1.1"/><circle cx="129.9" cy="305.1" r="1.1"/><circle cx="130.7" cy="281.3" r="1.1"/><circle cx="130.1" cy="291.5" r="1.1"/><circle cx="112.6" cy="309.0" r="1.1"/><circle cx="126.9" cy="297.9" r="1.1"/><circle cx="133.6" cy="291.1" r="1.1"/><circle cx="127.3" cy="291.0" r="1.1"/><circle cx="120.7" cy="293.9" r="1.1"/><circle cx="126.7" cy="285.3" r="1.1"/><circle cx="126.5" cy="295.5" r="1.1"/><circle cx="123.8" cy="286.4" r="1.1"/><circle cx="123.6" cy="292.2" r="1.1"/><circle cx="127.0" cy="293.8" r="1.1"/><circle cx="116.0" cy="303.1" r="1.1"/><circle cx="121.4" cy="296.7" r="1.1"/><circle cx="139.6" cy="292.7" r="1.1"/><circle cx="126.6" cy="307.0" r="1.1"/><circle cx="124.0" cy="305.0" r="1.1"/><circle cx="125.6" cy="278.0" r="1.1"/><circle cx="119.4" cy="294.1" r="1.1"/><circle cx="128.8" cy="304.0" r="1.1"/><circle cx="132.9" cy="283.2" r="1.1"/><circle cx="135.4" cy="283.7" r="1.1"/><circle cx="123.8" cy="307.1" r="1.1"/><circle cx="133.2" cy="284.1" r="1.1"/><circle cx="126.8" cy="292.0" r="1.1"/><circle cx="125.1" cy="308.8" r="1.1"/><circle cx="113.0" cy="302.1" r="1.1"/><circle cx="129.0" cy="303.5" r="1.1"/><circle cx="117.0" cy="295.9" r="1.1"/><circle cx="122.1" cy="306.2" r="1.1"/><circle cx="138.6" cy="281.3" r="1.1"/><circle cx="138.0" cy="284.4" r="1.1"/><circle cx="124.2" cy="289.7" r="1.1"/><circle cx="117.1" cy="304.1" r="1.1"/><circle cx="126.6" cy="296.4" r="1.1"/><circle cx="130.6" cy="299.4" r="1.1"/><circle cx="126.3" cy="295.5" r="1.1"/><circle cx="127.3" cy="283.2" r="1.1"/><circle cx="130.6" cy="287.1" r="1.1"/><circle cx="122.3" cy="301.8" r="1.1"/><circle cx="125.3" cy="290.5" r="1.1"/><circle cx="125.9" cy="286.8" r="1.1"/><circle cx="129.0" cy="290.6" r="1.1"/><circle cx="116.9" cy="294.6" r="1.1"/><circle cx="135.1" cy="290.4" r="1.1"/><circle cx="127.8" cy="274.3" r="1.1"/><circle cx="122.2" cy="305.1" r="1.1"/><circle cx="128.9" cy="288.5" r="1.1"/><circle cx="127.5" cy="290.7" r="1.1"/><circle cx="131.2" cy="297.9" r="1.1"/><circle cx="131.3" cy="288.2" r="1.1"/><circle cx="128.2" cy="289.4" r="1.1"/><circle cx="125.6" cy="294.5" r="1.1"/><circle cx="133.4" cy="293.1" r="1.1"/><circle cx="129.0" cy="300.3" r="1.1"/><circle cx="136.0" cy="303.1" r="1.1"/><circle cx="142.2" cy="284.3" r="1.1"/><circle cx="114.7" cy="314.4" r="1.1"/><circle cx="114.5" cy="302.7" r="1.1"/><circle cx="126.0" cy="283.5" r="1.1"/><circle cx="122.1" cy="292.0" r="1.1"/><circle cx="124.5" cy="288.3" r="1.1"/><circle cx="129.0" cy="282.9" r="1.1"/><circle cx="121.2" cy="300.1" r="1.1"/><circle cx="116.5" cy="303.3" r="1.1"/><circle cx="123.1" cy="279.0" r="1.1"/><circle cx="113.1" cy="293.4" r="1.1"/><circle cx="119.4" cy="295.3" r="1.1"/><circle cx="119.4" cy="296.7" r="1.1"/><circle cx="124.7" cy="298.0" r="1.1"/><circle cx="132.6" cy="282.8" r="1.1"/><circle cx="123.8" cy="288.8" r="1.1"/><circle cx="129.7" cy="304.2" r="1.1"/><circle cx="128.4" cy="294.3" r="1.1"/><circle cx="132.0" cy="284.3" r="1.1"/><circle cx="125.8" cy="300.0" r="1.1"/><circle cx="127.6" cy="303.3" r="1.1"/><circle cx="118.2" cy="308.4" r="1.1"/><circle cx="106.1" cy="301.9" r="1.1"/><circle cx="127.4" cy="300.1" r="1.1"/><circle cx="133.0" cy="296.4" r="1.1"/><circle cx="127.2" cy="303.5" r="1.1"/><circle cx="137.1" cy="296.6" r="1.1"/><circle cx="134.0" cy="278.6" r="1.1"/><circle cx="126.5" cy="295.1" r="1.1"/><circle cx="129.2" cy="302.4" r="1.1"/><circle cx="127.8" cy="299.0" r="1.1"/><circle cx="134.0" cy="289.7" r="1.1"/><circle cx="116.6" cy="295.3" r="1.1"/><circle cx="131.3" cy="286.8" r="1.1"/><circle cx="130.5" cy="293.1" r="1.1"/><circle cx="134.3" cy="288.6" r="1.1"/><circle cx="125.2" cy="299.9" r="1.1"/><circle cx="135.0" cy="295.4" r="1.1"/><circle cx="126.9" cy="291.5" r="1.1"/><circle cx="126.0" cy="287.8" r="1.1"/><circle cx="113.7" cy="307.1" r="1.1"/><circle cx="124.1" cy="297.6" r="1.1"/><circle cx="129.0" cy="293.7" r="1.1"/><circle cx="128.9" cy="273.7" r="1.1"/><circle cx="104.4" cy="322.3" r="1.1"/><circle cx="116.7" cy="297.1" r="1.1"/><circle cx="129.6" cy="278.3" r="1.1"/><circle cx="123.7" cy="303.4" r="1.1"/><circle cx="119.8" cy="294.8" r="1.1"/><circle cx="127.2" cy="299.4" r="1.1"/><circle cx="81.7" cy="343.3" r="1.1"/><circle cx="129.7" cy="283.7" r="1.1"/><circle cx="126.5" cy="304.1" r="1.1"/><circle cx="113.2" cy="300.4" r="1.1"/><circle cx="126.7" cy="289.7" r="1.1"/><circle cx="113.2" cy="307.6" r="1.1"/><circle cx="124.2" cy="286.8" r="1.1"/><circle cx="126.8" cy="283.4" r="1.1"/><circle cx="115.3" cy="300.1" r="1.1"/><circle cx="128.8" cy="289.2" r="1.1"/><circle cx="132.9" cy="279.6" r="1.1"/><circle cx="130.7" cy="288.8" r="1.1"/><circle cx="126.4" cy="292.5" r="1.1"/><circle cx="120.4" cy="287.5" r="1.1"/><circle cx="126.5" cy="299.0" r="1.1"/><circle cx="123.8" cy="292.6" r="1.1"/><circle cx="133.3" cy="288.1" r="1.1"/><circle cx="125.2" cy="282.3" r="1.1"/><circle cx="123.7" cy="287.6" r="1.1"/><circle cx="127.7" cy="303.4" r="1.1"/><circle cx="129.5" cy="279.6" r="1.1"/><circle cx="126.6" cy="304.8" r="1.1"/><circle cx="116.1" cy="293.8" r="1.1"/><circle cx="141.8" cy="288.8" r="1.1"/><circle cx="136.5" cy="284.0" r="1.1"/><circle cx="127.6" cy="303.1" r="1.1"/><circle cx="118.2" cy="296.9" r="1.1"/><circle cx="135.9" cy="281.0" r="1.1"/><circle cx="130.5" cy="295.4" r="1.1"/><circle cx="130.9" cy="283.7" r="1.1"/><circle cx="133.6" cy="297.1" r="1.1"/><circle cx="129.1" cy="292.9" r="1.1"/><circle cx="134.1" cy="284.9" r="1.1"/><circle cx="128.9" cy="287.3" r="1.1"/><circle cx="122.6" cy="294.2" r="1.1"/><circle cx="142.5" cy="296.0" r="1.1"/><circle cx="135.4" cy="293.6" r="1.1"/><circle cx="122.9" cy="304.5" r="1.1"/><circle cx="130.1" cy="284.6" r="1.1"/><circle cx="116.1" cy="300.0" r="1.1"/><circle cx="127.7" cy="274.6" r="1.1"/><circle cx="141.9" cy="278.5" r="1.1"/><circle cx="131.7" cy="286.0" r="1.1"/><circle cx="121.2" cy="298.1" r="1.1"/><circle cx="120.6" cy="282.0" r="1.1"/><circle cx="136.8" cy="280.8" r="1.1"/><circle cx="114.6" cy="313.4" r="1.1"/><circle cx="82.5" cy="320.0" r="1.1"/><circle cx="117.0" cy="295.2" r="1.1"/><circle cx="114.0" cy="311.0" r="1.1"/><circle cx="124.1" cy="292.3" r="1.1"/><circle cx="127.0" cy="288.6" r="1.1"/><circle cx="130.3" cy="290.5" r="1.1"/><circle cx="133.8" cy="292.5" r="1.1"/><circle cx="125.2" cy="290.1" r="1.1"/><circle cx="118.8" cy="290.5" r="1.1"/><circle cx="122.4" cy="316.2" r="1.1"/><circle cx="130.5" cy="295.4" r="1.1"/><circle cx="130.5" cy="293.6" r="1.1"/><circle cx="118.5" cy="297.5" r="1.1"/><circle cx="132.1" cy="297.7" r="1.1"/><circle cx="124.7" cy="292.7" r="1.1"/><circle cx="125.3" cy="299.8" r="1.1"/><circle cx="133.8" cy="274.9" r="1.1"/><circle cx="130.9" cy="292.4" r="1.1"/><circle cx="119.8" cy="297.1" r="1.1"/><circle cx="110.7" cy="306.9" r="1.1"/><circle cx="129.8" cy="292.8" r="1.1"/><circle cx="131.8" cy="303.7" r="1.1"/><circle cx="130.4" cy="287.4" r="1.1"/><circle cx="126.9" cy="299.2" r="1.1"/><circle cx="121.0" cy="287.8" r="1.1"/><circle cx="130.3" cy="294.7" r="1.1"/><circle cx="132.6" cy="297.8" r="1.1"/><circle cx="130.3" cy="286.8" r="1.1"/><circle cx="141.6" cy="283.1" r="1.1"/><circle cx="130.7" cy="284.3" r="1.1"/><circle cx="123.5" cy="286.6" r="1.1"/><circle cx="124.0" cy="288.1" r="1.1"/><circle cx="124.4" cy="282.8" r="1.1"/><circle cx="126.6" cy="287.1" r="1.1"/><circle cx="120.4" cy="295.5" r="1.1"/><circle cx="123.4" cy="285.3" r="1.1"/><circle cx="134.6" cy="294.1" r="1.1"/><circle cx="117.5" cy="290.1" r="1.1"/><circle cx="137.8" cy="281.9" r="1.1"/><circle cx="123.1" cy="298.7" r="1.1"/><circle cx="123.2" cy="291.7" r="1.1"/><circle cx="121.8" cy="296.6" r="1.1"/><circle cx="117.6" cy="285.7" r="1.1"/><circle cx="132.9" cy="293.1" r="1.1"/><circle cx="127.1" cy="290.6" r="1.1"/><circle cx="130.4" cy="290.8" r="1.1"/><circle cx="130.4" cy="287.2" r="1.1"/><circle cx="124.6" cy="304.8" r="1.1"/><circle cx="147.3" cy="287.5" r="1.1"/><circle cx="122.1" cy="286.0" r="1.1"/><circle cx="130.4" cy="291.6" r="1.1"/><circle cx="134.5" cy="295.0" r="1.1"/><circle cx="128.7" cy="293.5" r="1.1"/><circle cx="122.9" cy="295.5" r="1.1"/><circle cx="137.3" cy="290.9" r="1.1"/><circle cx="134.0" cy="299.6" r="1.1"/><circle cx="111.8" cy="290.8" r="1.1"/><circle cx="133.7" cy="289.9" r="1.1"/><circle cx="116.9" cy="300.0" r="1.1"/><circle cx="131.6" cy="294.6" r="1.1"/><circle cx="143.0" cy="284.5" r="1.1"/><circle cx="123.2" cy="289.6" r="1.1"/><circle cx="140.2" cy="285.2" r="1.1"/><circle cx="133.8" cy="292.5" r="1.1"/><circle cx="112.3" cy="309.8" r="1.1"/><circle cx="121.1" cy="313.1" r="1.1"/><circle cx="133.5" cy="286.7" r="1.1"/><circle cx="131.1" cy="293.4" r="1.1"/><circle cx="132.3" cy="291.4" r="1.1"/><circle cx="135.5" cy="310.8" r="1.1"/><circle cx="124.9" cy="301.1" r="1.1"/><circle cx="127.3" cy="305.5" r="1.1"/><circle cx="133.9" cy="298.7" r="1.1"/><circle cx="131.4" cy="295.5" r="1.1"/><circle cx="115.9" cy="295.7" r="1.1"/><circle cx="137.2" cy="280.0" r="1.1"/><circle cx="126.7" cy="295.8" r="1.1"/><circle cx="129.9" cy="289.4" r="1.1"/><circle cx="136.5" cy="289.3" r="1.1"/><circle cx="119.6" cy="303.3" r="1.1"/><circle cx="126.1" cy="298.0" r="1.1"/><circle cx="123.8" cy="300.8" r="1.1"/><circle cx="127.5" cy="299.1" r="1.1"/><circle cx="126.8" cy="288.6" r="1.1"/><circle cx="128.2" cy="297.3" r="1.1"/><circle cx="124.4" cy="293.7" r="1.1"/><circle cx="128.3" cy="291.1" r="1.1"/><circle cx="129.7" cy="296.7" r="1.1"/><circle cx="130.3" cy="282.6" r="1.1"/><circle cx="135.0" cy="287.9" r="1.1"/><circle cx="116.4" cy="283.8" r="1.1"/><circle cx="128.0" cy="291.6" r="1.1"/><circle cx="123.2" cy="290.0" r="1.1"/><circle cx="115.6" cy="292.4" r="1.1"/><circle cx="126.2" cy="300.9" r="1.1"/><circle cx="125.3" cy="278.9" r="1.1"/><circle cx="134.3" cy="293.7" r="1.1"/><circle cx="120.8" cy="284.6" r="1.1"/><circle cx="134.9" cy="285.2" r="1.1"/><circle cx="126.8" cy="300.5" r="1.1"/><circle cx="115.8" cy="299.2" r="1.1"/><circle cx="119.2" cy="297.0" r="1.1"/><circle cx="121.2" cy="296.2" r="1.1"/><circle cx="142.5" cy="292.9" r="1.1"/><circle cx="144.6" cy="282.9" r="1.1"/><circle cx="123.8" cy="295.3" r="1.1"/><circle cx="85.1" cy="338.6" r="1.1"/><circle cx="128.9" cy="279.9" r="1.1"/><circle cx="131.4" cy="277.3" r="1.1"/><circle cx="119.8" cy="298.9" r="1.1"/><circle cx="132.6" cy="283.9" r="1.1"/><circle cx="134.2" cy="298.2" r="1.1"/><circle cx="132.1" cy="285.4" r="1.1"/><circle cx="136.4" cy="281.5" r="1.1"/><circle cx="128.6" cy="297.1" r="1.1"/><circle cx="96.7" cy="309.1" r="1.1"/><circle cx="131.7" cy="302.3" r="1.1"/><circle cx="121.2" cy="293.9" r="1.1"/><circle cx="121.4" cy="290.4" r="1.1"/><circle cx="119.6" cy="296.6" r="1.1"/><circle cx="119.4" cy="285.3" r="1.1"/><circle cx="109.3" cy="304.5" r="1.1"/><circle cx="124.8" cy="296.6" r="1.1"/><circle cx="136.3" cy="289.9" r="1.1"/><circle cx="138.3" cy="287.8" r="1.1"/><circle cx="133.8" cy="294.2" r="1.1"/><circle cx="127.5" cy="299.8" r="1.1"/><circle cx="130.7" cy="294.4" r="1.1"/><circle cx="126.5" cy="296.4" r="1.1"/><circle cx="129.1" cy="289.2" r="1.1"/><circle cx="127.6" cy="280.2" r="1.1"/><circle cx="122.9" cy="303.5" r="1.1"/><circle cx="135.0" cy="303.3" r="1.1"/><circle cx="127.4" cy="274.3" r="1.1"/><circle cx="114.1" cy="303.1" r="1.1"/><circle cx="120.1" cy="295.3" r="1.1"/><circle cx="124.6" cy="301.0" r="1.1"/><circle cx="129.3" cy="305.4" r="1.1"/><circle cx="99.3" cy="319.6" r="1.1"/><circle cx="130.3" cy="302.6" r="1.1"/><circle cx="134.1" cy="294.1" r="1.1"/><circle cx="117.1" cy="309.2" r="1.1"/><circle cx="117.0" cy="295.8" r="1.1"/><circle cx="131.7" cy="287.5" r="1.1"/><circle cx="129.4" cy="294.5" r="1.1"/><circle cx="134.7" cy="305.1" r="1.1"/><circle cx="133.8" cy="283.6" r="1.1"/><circle cx="133.0" cy="288.5" r="1.1"/><circle cx="134.9" cy="291.8" r="1.1"/><circle cx="126.9" cy="303.5" r="1.1"/><circle cx="97.9" cy="324.6" r="1.1"/><circle cx="123.4" cy="297.6" r="1.1"/><circle cx="114.3" cy="298.2" r="1.1"/><circle cx="119.8" cy="299.9" r="1.1"/><circle cx="124.1" cy="300.9" r="1.1"/><circle cx="122.6" cy="305.7" r="1.1"/><circle cx="128.0" cy="290.1" r="1.1"/><circle cx="127.3" cy="294.7" r="1.1"/><circle cx="124.3" cy="291.8" r="1.1"/><circle cx="119.5" cy="279.7" r="1.1"/><circle cx="126.8" cy="290.9" r="1.1"/><circle cx="127.3" cy="292.6" r="1.1"/><circle cx="118.1" cy="294.4" r="1.1"/><circle cx="131.2" cy="284.1" r="1.1"/><circle cx="118.8" cy="290.2" r="1.1"/><circle cx="144.9" cy="297.5" r="1.1"/><circle cx="133.8" cy="296.1" r="1.1"/><circle cx="134.5" cy="285.7" r="1.1"/><circle cx="116.7" cy="301.4" r="1.1"/><circle cx="140.3" cy="292.8" r="1.1"/><circle cx="119.7" cy="297.4" r="1.1"/><circle cx="127.4" cy="294.8" r="1.1"/><circle cx="131.4" cy="290.5" r="1.1"/><circle cx="125.6" cy="301.9" r="1.1"/><circle cx="127.6" cy="295.4" r="1.1"/><circle cx="131.1" cy="282.3" r="1.1"/><circle cx="137.4" cy="298.7" r="1.1"/><circle cx="129.5" cy="286.0" r="1.1"/><circle cx="90.2" cy="327.0" r="1.1"/><circle cx="123.7" cy="289.1" r="1.1"/><circle cx="134.6" cy="276.9" r="1.1"/><circle cx="130.6" cy="304.6" r="1.1"/><circle cx="130.9" cy="294.8" r="1.1"/><circle cx="126.8" cy="283.2" r="1.1"/><circle cx="127.3" cy="307.0" r="1.1"/><circle cx="131.6" cy="297.7" r="1.1"/><circle cx="124.3" cy="294.4" r="1.1"/><circle cx="129.6" cy="294.7" r="1.1"/><circle cx="122.6" cy="294.0" r="1.1"/><circle cx="131.7" cy="282.9" r="1.1"/><circle cx="123.7" cy="296.5" r="1.1"/><circle cx="120.3" cy="303.6" r="1.1"/><circle cx="102.1" cy="311.2" r="1.1"/><circle cx="128.0" cy="287.3" r="1.1"/><circle cx="135.3" cy="285.1" r="1.1"/><circle cx="131.0" cy="298.0" r="1.1"/><circle cx="125.4" cy="296.2" r="1.1"/><circle cx="107.7" cy="319.1" r="1.1"/><circle cx="114.0" cy="312.4" r="1.1"/><circle cx="127.2" cy="290.2" r="1.1"/><circle cx="134.6" cy="303.3" r="1.1"/><circle cx="117.7" cy="298.7" r="1.1"/><circle cx="119.5" cy="291.2" r="1.1"/><circle cx="127.9" cy="290.9" r="1.1"/><circle cx="118.7" cy="291.6" r="1.1"/><circle cx="134.2" cy="307.9" r="1.1"/><circle cx="129.0" cy="293.1" r="1.1"/><circle cx="128.6" cy="281.0" r="1.1"/><circle cx="128.7" cy="286.1" r="1.1"/><circle cx="132.5" cy="298.5" r="1.1"/><circle cx="125.0" cy="302.0" r="1.1"/><circle cx="121.4" cy="285.3" r="1.1"/><circle cx="121.5" cy="305.9" r="1.1"/><circle cx="134.3" cy="281.3" r="1.1"/><circle cx="129.9" cy="293.7" r="1.1"/><circle cx="119.6" cy="297.4" r="1.1"/><circle cx="124.4" cy="300.7" r="1.1"/><circle cx="117.3" cy="293.1" r="1.1"/><circle cx="122.8" cy="290.1" r="1.1"/><circle cx="136.6" cy="285.6" r="1.1"/><circle cx="128.1" cy="281.8" r="1.1"/><circle cx="125.2" cy="301.0" r="1.1"/><circle cx="125.1" cy="301.9" r="1.1"/><circle cx="128.2" cy="288.4" r="1.1"/><circle cx="142.1" cy="305.7" r="1.1"/><circle cx="104.9" cy="313.7" r="1.1"/><circle cx="126.1" cy="282.5" r="1.1"/><circle cx="130.9" cy="290.0" r="1.1"/><circle cx="121.1" cy="287.1" r="1.1"/><circle cx="114.7" cy="300.8" r="1.1"/><circle cx="130.4" cy="301.4" r="1.1"/><circle cx="124.9" cy="288.7" r="1.1"/><circle cx="111.0" cy="316.3" r="1.1"/><circle cx="113.6" cy="291.2" r="1.1"/><circle cx="123.1" cy="297.2" r="1.1"/><circle cx="130.5" cy="289.3" r="1.1"/><circle cx="119.2" cy="300.3" r="1.1"/><circle cx="136.9" cy="297.1" r="1.1"/><circle cx="129.8" cy="286.5" r="1.1"/><circle cx="127.8" cy="291.2" r="1.1"/><circle cx="124.2" cy="290.9" r="1.1"/><circle cx="118.3" cy="294.8" r="1.1"/><circle cx="108.8" cy="308.6" r="1.1"/><circle cx="123.8" cy="297.8" r="1.1"/><circle cx="121.6" cy="300.2" r="1.1"/><circle cx="109.4" cy="302.0" r="1.1"/><circle cx="126.9" cy="299.7" r="1.1"/><circle cx="128.6" cy="284.6" r="1.1"/><circle cx="122.9" cy="277.0" r="1.1"/><circle cx="139.7" cy="299.9" r="1.1"/><circle cx="117.6" cy="289.7" r="1.1"/><circle cx="112.4" cy="299.3" r="1.1"/><circle cx="119.6" cy="288.7" r="1.1"/><circle cx="132.8" cy="290.1" r="1.1"/><circle cx="118.6" cy="312.1" r="1.1"/><circle cx="119.3" cy="289.0" r="1.1"/><circle cx="128.2" cy="298.5" r="1.1"/><circle cx="114.7" cy="301.2" r="1.1"/><circle cx="118.4" cy="292.6" r="1.1"/><circle cx="145.0" cy="280.4" r="1.1"/><circle cx="124.8" cy="306.1" r="1.1"/><circle cx="127.9" cy="287.8" r="1.1"/><circle cx="133.0" cy="294.5" r="1.1"/><circle cx="121.4" cy="291.4" r="1.1"/><circle cx="128.9" cy="293.5" r="1.1"/><circle cx="120.3" cy="304.7" r="1.1"/><circle cx="125.0" cy="295.4" r="1.1"/><circle cx="127.0" cy="306.3" r="1.1"/><circle cx="89.3" cy="326.8" r="1.1"/><circle cx="132.5" cy="299.0" r="1.1"/><circle cx="115.3" cy="305.4" r="1.1"/><circle cx="134.3" cy="292.7" r="1.1"/><circle cx="127.3" cy="297.5" r="1.1"/><circle cx="137.2" cy="304.2" r="1.1"/><circle cx="120.0" cy="292.2" r="1.1"/><circle cx="117.6" cy="295.3" r="1.1"/><circle cx="137.0" cy="288.8" r="1.1"/><circle cx="128.6" cy="286.7" r="1.1"/><circle cx="124.2" cy="303.8" r="1.1"/><circle cx="127.3" cy="291.3" r="1.1"/><circle cx="129.3" cy="293.5" r="1.1"/><circle cx="126.5" cy="282.3" r="1.1"/><circle cx="133.7" cy="289.8" r="1.1"/><circle cx="139.4" cy="288.9" r="1.1"/><circle cx="127.6" cy="290.7" r="1.1"/><circle cx="134.8" cy="283.0" r="1.1"/><circle cx="135.6" cy="277.2" r="1.1"/><circle cx="118.0" cy="287.6" r="1.1"/><circle cx="128.4" cy="284.7" r="1.1"/><circle cx="122.7" cy="295.9" r="1.1"/><circle cx="124.7" cy="284.7" r="1.1"/><circle cx="129.3" cy="289.7" r="1.1"/><circle cx="130.8" cy="281.1" r="1.1"/><circle cx="129.8" cy="299.7" r="1.1"/><circle cx="123.0" cy="301.4" r="1.1"/><circle cx="129.2" cy="300.3" r="1.1"/><circle cx="122.4" cy="296.7" r="1.1"/><circle cx="123.0" cy="294.8" r="1.1"/><circle cx="120.9" cy="290.0" r="1.1"/><circle cx="124.8" cy="300.5" r="1.1"/><circle cx="127.7" cy="288.7" r="1.1"/><circle cx="128.5" cy="280.6" r="1.1"/><circle cx="128.1" cy="286.3" r="1.1"/><circle cx="130.9" cy="294.6" r="1.1"/><circle cx="114.9" cy="313.4" r="1.1"/><circle cx="130.0" cy="296.5" r="1.1"/><circle cx="125.2" cy="277.4" r="1.1"/><circle cx="125.8" cy="296.1" r="1.1"/><circle cx="121.2" cy="295.9" r="1.1"/><circle cx="130.0" cy="289.6" r="1.1"/><circle cx="125.3" cy="286.6" r="1.1"/><circle cx="137.4" cy="284.7" r="1.1"/><circle cx="133.3" cy="288.9" r="1.1"/><circle cx="124.5" cy="297.9" r="1.1"/><circle cx="92.9" cy="315.3" r="1.1"/><circle cx="131.7" cy="293.2" r="1.1"/><circle cx="129.6" cy="294.6" r="1.1"/><circle cx="128.0" cy="298.6" r="1.1"/><circle cx="122.6" cy="306.3" r="1.1"/><circle cx="131.7" cy="296.3" r="1.1"/><circle cx="117.8" cy="308.4" r="1.1"/><circle cx="133.9" cy="294.0" r="1.1"/><circle cx="126.7" cy="294.5" r="1.1"/><circle cx="124.7" cy="305.6" r="1.1"/><circle cx="120.9" cy="287.8" r="1.1"/><circle cx="112.5" cy="302.3" r="1.1"/><circle cx="127.0" cy="294.0" r="1.1"/><circle cx="114.3" cy="293.9" r="1.1"/><circle cx="129.6" cy="296.8" r="1.1"/><circle cx="113.5" cy="295.8" r="1.1"/><circle cx="129.6" cy="289.3" r="1.1"/><circle cx="130.1" cy="287.7" r="1.1"/><circle cx="134.0" cy="296.9" r="1.1"/><circle cx="120.6" cy="292.0" r="1.1"/><circle cx="133.1" cy="295.2" r="1.1"/><circle cx="132.5" cy="276.5" r="1.1"/><circle cx="140.5" cy="274.9" r="1.1"/><circle cx="114.9" cy="300.7" r="1.1"/><circle cx="122.9" cy="288.3" r="1.1"/><circle cx="128.2" cy="303.6" r="1.1"/><circle cx="133.8" cy="291.8" r="1.1"/><circle cx="126.9" cy="294.1" r="1.1"/><circle cx="132.3" cy="293.8" r="1.1"/><circle cx="130.1" cy="293.2" r="1.1"/><circle cx="124.5" cy="286.0" r="1.1"/><circle cx="122.3" cy="296.4" r="1.1"/><circle cx="132.7" cy="277.4" r="1.1"/><circle cx="129.2" cy="299.1" r="1.1"/><circle cx="131.4" cy="294.4" r="1.1"/><circle cx="127.6" cy="293.2" r="1.1"/><circle cx="130.3" cy="285.3" r="1.1"/><circle cx="125.7" cy="295.1" r="1.1"/><circle cx="138.1" cy="299.2" r="1.1"/><circle cx="121.7" cy="298.9" r="1.1"/><circle cx="132.3" cy="285.3" r="1.1"/><circle cx="112.5" cy="298.9" r="1.1"/><circle cx="122.3" cy="310.4" r="1.1"/><circle cx="125.2" cy="293.2" r="1.1"/><circle cx="131.2" cy="286.5" r="1.1"/><circle cx="140.2" cy="300.2" r="1.1"/><circle cx="129.1" cy="300.9" r="1.1"/><circle cx="122.2" cy="296.2" r="1.1"/><circle cx="131.1" cy="297.4" r="1.1"/><circle cx="96.2" cy="334.0" r="1.1"/><circle cx="123.6" cy="292.4" r="1.1"/><circle cx="123.6" cy="299.5" r="1.1"/><circle cx="121.8" cy="289.2" r="1.1"/><circle cx="120.7" cy="295.1" r="1.1"/><circle cx="130.1" cy="292.3" r="1.1"/><circle cx="131.6" cy="298.8" r="1.1"/><circle cx="126.8" cy="296.4" r="1.1"/><circle cx="106.5" cy="313.6" r="1.1"/><circle cx="130.2" cy="297.3" r="1.1"/><circle cx="133.7" cy="285.6" r="1.1"/><circle cx="131.8" cy="288.4" r="1.1"/><circle cx="134.6" cy="294.3" r="1.1"/><circle cx="102.7" cy="308.7" r="1.1"/><circle cx="101.3" cy="317.6" r="1.1"/><circle cx="115.4" cy="310.5" r="1.1"/><circle cx="127.6" cy="288.0" r="1.1"/><circle cx="115.6" cy="298.7" r="1.1"/><circle cx="119.1" cy="294.0" r="1.1"/><circle cx="129.1" cy="284.9" r="1.1"/><circle cx="127.1" cy="299.2" r="1.1"/><circle cx="126.2" cy="308.4" r="1.1"/><circle cx="126.6" cy="291.3" r="1.1"/><circle cx="129.4" cy="291.8" r="1.1"/><circle cx="131.5" cy="292.1" r="1.1"/><circle cx="122.7" cy="299.1" r="1.1"/><circle cx="121.2" cy="283.5" r="1.1"/><circle cx="129.9" cy="306.9" r="1.1"/><circle cx="122.6" cy="304.4" r="1.1"/><circle cx="125.9" cy="294.6" r="1.1"/><circle cx="126.2" cy="291.5" r="1.1"/><circle cx="126.2" cy="294.6" r="1.1"/><circle cx="110.8" cy="294.0" r="1.1"/><circle cx="127.0" cy="288.3" r="1.1"/><circle cx="130.9" cy="292.3" r="1.1"/><circle cx="117.2" cy="304.6" r="1.1"/><circle cx="132.8" cy="291.9" r="1.1"/><circle cx="133.7" cy="291.6" r="1.1"/><circle cx="125.1" cy="284.6" r="1.1"/><circle cx="132.3" cy="281.5" r="1.1"/><circle cx="129.3" cy="285.4" r="1.1"/><circle cx="122.3" cy="291.1" r="1.1"/><circle cx="128.9" cy="291.5" r="1.1"/><circle cx="124.4" cy="301.9" r="1.1"/><circle cx="125.3" cy="291.3" r="1.1"/><circle cx="129.5" cy="277.5" r="1.1"/><circle cx="135.1" cy="295.0" r="1.1"/><circle cx="126.8" cy="294.5" r="1.1"/><circle cx="132.5" cy="304.9" r="1.1"/><circle cx="129.2" cy="302.1" r="1.1"/><circle cx="143.8" cy="288.1" r="1.1"/><circle cx="132.4" cy="282.1" r="1.1"/><circle cx="112.6" cy="305.8" r="1.1"/><circle cx="116.9" cy="305.8" r="1.1"/><circle cx="122.9" cy="289.3" r="1.1"/><circle cx="128.9" cy="289.3" r="1.1"/><circle cx="130.0" cy="283.9" r="1.1"/><circle cx="118.0" cy="298.5" r="1.1"/><circle cx="132.6" cy="289.3" r="1.1"/><circle cx="127.2" cy="298.2" r="1.1"/><circle cx="120.4" cy="297.7" r="1.1"/><circle cx="123.2" cy="291.0" r="1.1"/><circle cx="138.0" cy="293.3" r="1.1"/><circle cx="134.5" cy="290.0" r="1.1"/><circle cx="130.4" cy="293.9" r="1.1"/><circle cx="133.1" cy="279.0" r="1.1"/><circle cx="135.6" cy="294.0" r="1.1"/><circle cx="118.3" cy="305.0" r="1.1"/><circle cx="131.6" cy="288.4" r="1.1"/><circle cx="131.3" cy="295.5" r="1.1"/><circle cx="112.8" cy="308.6" r="1.1"/><circle cx="134.1" cy="296.6" r="1.1"/><circle cx="125.7" cy="290.3" r="1.1"/><circle cx="128.6" cy="282.7" r="1.1"/><circle cx="123.9" cy="307.5" r="1.1"/><circle cx="125.0" cy="303.7" r="1.1"/><circle cx="117.5" cy="299.3" r="1.1"/><circle cx="125.4" cy="298.0" r="1.1"/><circle cx="121.5" cy="286.1" r="1.1"/><circle cx="126.5" cy="280.6" r="1.1"/><circle cx="103.7" cy="311.9" r="1.1"/><circle cx="114.8" cy="287.7" r="1.1"/><circle cx="125.2" cy="298.0" r="1.1"/><circle cx="122.1" cy="305.2" r="1.1"/><circle cx="132.5" cy="295.9" r="1.1"/><circle cx="136.7" cy="277.4" r="1.1"/><circle cx="132.8" cy="292.1" r="1.1"/><circle cx="128.2" cy="297.5" r="1.1"/><circle cx="107.8" cy="296.4" r="1.1"/><circle cx="121.5" cy="289.0" r="1.1"/><circle cx="127.8" cy="300.5" r="1.1"/><circle cx="126.0" cy="300.8" r="1.1"/><circle cx="132.6" cy="287.0" r="1.1"/><circle cx="134.7" cy="281.1" r="1.1"/><circle cx="148.2" cy="272.8" r="1.1"/></g>
<line x1="81.8" y1="324.7" x2="150.2" y2="277.8" stroke="#f05a55" stroke-width="0.9"/>
<text font-size="100" font-weight="bold" fill="#111" stroke="#111" stroke-width="2.65" transform="translate(210.24 245.76) scale(0.09423 0.09437)">BLCA</text>
<text font-size="100" font-weight="bold" fill="#111" stroke="#111" stroke-width="3.85" transform="translate(197.53 259.09) scale(0.06509 0.06479)">r = 0.48</text>
<text font-size="100" font-weight="bold" fill="#111" stroke="#111" stroke-width="3.67" transform="translate(197.54 268.03) scale(0.06356 0.07253)"><tspan font-style="italic">p</tspan> &lt; 0.0001</text>
<text font-size="100" font-weight="bold" fill="#111" stroke="#111" stroke-width="4.11" transform="translate(181.83 346.03) rotate(-90) scale(0.06811 0.05348)">hnRNP C expression level</text>
<line x1="193.2" y1="265.7" x2="193.2" y2="342.5" stroke="#111" stroke-width="1"/>
<line x1="192.7" y1="342.5" x2="272.0" y2="342.5" stroke="#111" stroke-width="1"/>
<line x1="189.5" y1="277.1" x2="193.2" y2="277.1" stroke="#111" stroke-width="0.9"/>
<text x="188.2" y="278.7" font-size="4.6" font-weight="bold" text-anchor="end" fill="#222" stroke="#222" stroke-width="0.15">9</text>
<line x1="189.5" y1="298.9" x2="193.2" y2="298.9" stroke="#111" stroke-width="0.9"/>
<text x="188.2" y="300.5" font-size="4.6" font-weight="bold" text-anchor="end" fill="#222" stroke="#222" stroke-width="0.15">8</text>
<line x1="189.5" y1="320.7" x2="193.2" y2="320.7" stroke="#111" stroke-width="0.9"/>
<text x="188.2" y="322.3" font-size="4.6" font-weight="bold" text-anchor="end" fill="#222" stroke="#222" stroke-width="0.15">7</text>
<line x1="189.5" y1="342.5" x2="193.2" y2="342.5" stroke="#111" stroke-width="0.9"/>
<text x="188.2" y="344.1" font-size="4.6" font-weight="bold" text-anchor="end" fill="#222" stroke="#222" stroke-width="0.15">6</text>
<line x1="193.3" y1="342.5" x2="193.3" y2="345.6" stroke="#111" stroke-width="0.9"/>
<text x="193.3" y="352.2" font-size="4.6" font-weight="bold" text-anchor="middle" fill="#222" stroke="#222" stroke-width="0.15">0</text>
<line x1="209.8" y1="342.5" x2="209.8" y2="345.6" stroke="#111" stroke-width="0.9"/>
<text x="209.8" y="352.2" font-size="4.6" font-weight="bold" text-anchor="middle" fill="#222" stroke="#222" stroke-width="0.15">2</text>
<line x1="226.2" y1="342.5" x2="226.2" y2="345.6" stroke="#111" stroke-width="0.9"/>
<text x="226.2" y="352.2" font-size="4.6" font-weight="bold" text-anchor="middle" fill="#222" stroke="#222" stroke-width="0.15">4</text>
<line x1="242.7" y1="342.5" x2="242.7" y2="345.6" stroke="#111" stroke-width="0.9"/>
<text x="242.7" y="352.2" font-size="4.6" font-weight="bold" text-anchor="middle" fill="#222" stroke="#222" stroke-width="0.15">6</text>
<line x1="259.1" y1="342.5" x2="259.1" y2="345.6" stroke="#111" stroke-width="0.9"/>
<text x="259.1" y="352.2" font-size="4.6" font-weight="bold" text-anchor="middle" fill="#222" stroke="#222" stroke-width="0.15">8</text>
<text font-size="100" font-weight="bold" fill="#111" stroke="#111" stroke-width="3.75" transform="translate(192.90 363.90) scale(0.06916 0.06417)">FOXM1 expression level</text>
<g fill="#555" fill-opacity="0.6" stroke="#000" stroke-width="0.45" stroke-opacity="0.9"><circle cx="237.2" cy="288.0" r="1.1"/><circle cx="227.4" cy="302.2" r="1.1"/><circle cx="234.1" cy="291.4" r="1.1"/><circle cx="238.2" cy="280.6" r="1.1"/><circle cx="238.8" cy="288.3" r="1.1"/><circle cx="231.1" cy="284.5" r="1.1"/><circle cx="240.3" cy="277.8" r="1.1"/><circle cx="235.7" cy="292.5" r="1.1"/><circle cx="222.7" cy="289.3" r="1.1"/><circle cx="231.1" cy="305.6" r="1.1"/><circle cx="217.0" cy="309.3" r="1.1"/><circle cx="221.1" cy="303.6" r="1.1"/><circle cx="233.2" cy="288.5" r="1.1"/><circle cx="229.2" cy="290.7" r="1.1"/><circle cx="237.9" cy="281.8" r="1.1"/><circle cx="220.3" cy="289.5" r="1.1"/><circle cx="241.8" cy="287.3" r="1.1"/><circle cx="218.8" cy="298.6" r="1.1"/><circle cx="245.3" cy="301.0" r="1.1"/><circle cx="241.1" cy="286.9" r="1.1"/><circle cx="231.2" cy="293.7" r="1.1"/><circle cx="241.3" cy="293.0" r="1.1"/><circle cx="242.5" cy="289.0" r="1.1"/><circle cx="224.3" cy="304.3" r="1.1"/><circle cx="243.1" cy="291.9" r="1.1"/><circle cx="237.4" cy="303.3" r="1.1"/><circle cx="239.5" cy="292.0" r="1.1"/><circle cx="237.1" cy="288.0" r="1.1"/><circle cx="245.3" cy="286.2" r="1.1"/><circle cx="231.6" cy="280.5" r="1.1"/><circle cx="232.5" cy="306.7" r="1.1"/><circle cx="223.8" cy="302.1" r="1.1"/><circle cx="214.8" cy="304.1" r="1.1"/><circle cx="236.4" cy="287.1" r="1.1"/><circle cx="244.3" cy="308.9" r="1.1"/><circle cx="223.7" cy="298.3" r="1.1"/><circle cx="223.9" cy="301.8" r="1.1"/><circle cx="238.2" cy="300.7" r="1.1"/><circle cx="223.7" cy="302.3" r="1.1"/><circle cx="227.7" cy="289.2" r="1.1"/><circle cx="212.3" cy="291.1" r="1.1"/><circle cx="219.5" cy="298.7" r="1.1"/><circle cx="227.2" cy="306.8" r="1.1"/><circle cx="214.5" cy="292.2" r="1.1"/><circle cx="216.0" cy="300.2" r="1.1"/><circle cx="233.2" cy="298.7" r="1.1"/><circle cx="243.7" cy="292.7" r="1.1"/><circle cx="242.3" cy="300.7" r="1.1"/><circle cx="211.9" cy="304.1" r="1.1"/><circle cx="228.3" cy="291.7" r="1.1"/><circle cx="212.4" cy="309.9" r="1.1"/><circle cx="235.9" cy="291.0" r="1.1"/><circle cx="224.8" cy="318.5" r="1.1"/><circle cx="229.6" cy="292.5" r="1.1"/><circle cx="238.7" cy="282.0" r="1.1"/><circle cx="236.1" cy="294.7" r="1.1"/><circle cx="248.9" cy="293.8" r="1.1"/><circle cx="249.2" cy="286.9" r="1.1"/><circle cx="246.1" cy="283.6" r="1.1"/><circle cx="235.1" cy="308.3" r="1.1"/><circle cx="248.6" cy="294.5" r="1.1"/><circle cx="238.8" cy="291.6" r="1.1"/><circle cx="225.9" cy="300.7" r="1.1"/><circle cx="235.8" cy="299.4" r="1.1"/><circle cx="245.7" cy="297.7" r="1.1"/><circle cx="239.0" cy="288.8" r="1.1"/><circle cx="242.5" cy="290.0" r="1.1"/><circle cx="223.3" cy="291.4" r="1.1"/><circle cx="247.2" cy="281.0" r="1.1"/><circle cx="215.5" cy="300.1" r="1.1"/><circle cx="233.3" cy="303.0" r="1.1"/><circle cx="230.7" cy="289.5" r="1.1"/><circle cx="236.8" cy="296.5" r="1.1"/><circle cx="228.1" cy="299.4" r="1.1"/><circle cx="242.3" cy="288.6" r="1.1"/><circle cx="239.9" cy="285.5" r="1.1"/><circle cx="237.6" cy="293.5" r="1.1"/><circle cx="234.9" cy="299.2" r="1.1"/><circle cx="242.0" cy="288.8" r="1.1"/><circle cx="228.2" cy="316.5" r="1.1"/><circle cx="216.9" cy="287.6" r="1.1"/><circle cx="247.7" cy="284.7" r="1.1"/><circle cx="228.0" cy="298.9" r="1.1"/><circle cx="237.1" cy="301.2" r="1.1"/><circle cx="243.3" cy="276.4" r="1.1"/><circle cx="240.9" cy="281.8" r="1.1"/><circle cx="234.1" cy="300.0" r="1.1"/><circle cx="220.9" cy="306.7" r="1.1"/><circle cx="240.5" cy="287.7" r="1.1"/><circle cx="223.9" cy="305.9" r="1.1"/><circle cx="244.2" cy="290.1" r="1.1"/><circle cx="238.3" cy="281.6" r="1.1"/><circle cx="237.1" cy="292.5" r="1.1"/><circle cx="238.7" cy="295.4" r="1.1"/><circle cx="237.6" cy="297.7" r="1.1"/><circle cx="249.9" cy="296.9" r="1.1"/><circle cx="245.1" cy="291.0" r="1.1"/><circle cx="226.7" cy="279.4" r="1.1"/><circle cx="244.1" cy="291.5" r="1.1"/><circle cx="234.9" cy="285.7" r="1.1"/><circle cx="243.6" cy="285.3" r="1.1"/><circle cx="239.9" cy="289.2" r="1.1"/><circle cx="246.9" cy="281.6" r="1.1"/><circle cx="237.4" cy="288.7" r="1.1"/><circle cx="250.0" cy="291.2" r="1.1"/><circle cx="237.9" cy="293.7" r="1.1"/><circle cx="242.1" cy="278.0" r="1.1"/><circle cx="229.8" cy="299.1" r="1.1"/><circle cx="243.7" cy="280.9" r="1.1"/><circle cx="236.5" cy="282.5" r="1.1"/><circle cx="243.1" cy="290.5" r="1.1"/><circle cx="230.7" cy="298.6" r="1.1"/><circle cx="237.7" cy="294.2" r="1.1"/><circle cx="235.7" cy="298.4" r="1.1"/><circle cx="236.1" cy="293.1" r="1.1"/><circle cx="242.0" cy="285.8" r="1.1"/><circle cx="237.3" cy="285.9" r="1.1"/><circle cx="223.6" cy="293.3" r="1.1"/><circle cx="240.3" cy="287.8" r="1.1"/><circle cx="213.7" cy="301.2" r="1.1"/><circle cx="240.2" cy="283.8" r="1.1"/><circle cx="247.9" cy="289.6" r="1.1"/><circle cx="243.4" cy="285.3" r="1.1"/><circle cx="246.3" cy="297.6" r="1.1"/><circle cx="243.4" cy="273.6" r="1.1"/><circle cx="225.9" cy="290.2" r="1.1"/><circle cx="242.3" cy="292.4" r="1.1"/><circle cx="231.3" cy="297.3" r="1.1"/><circle cx="231.0" cy="292.5" r="1.1"/><circle cx="230.0" cy="301.6" r="1.1"/><circle cx="243.1" cy="291.9" r="1.1"/><circle cx="248.7" cy="294.5" r="1.1"/><circle cx="210.1" cy="288.8" r="1.1"/><circle cx="236.6" cy="286.6" r="1.1"/><circle cx="240.3" cy="273.6" r="1.1"/><circle cx="240.0" cy="286.7" r="1.1"/><circle cx="239.8" cy="274.1" r="1.1"/><circle cx="239.9" cy="288.4" r="1.1"/><circle cx="218.0" cy="302.5" r="1.1"/><circle cx="238.7" cy="278.6" r="1.1"/><circle cx="232.9" cy="289.1" r="1.1"/><circle cx="234.5" cy="293.6" r="1.1"/><circle cx="242.3" cy="285.8" r="1.1"/><circle cx="251.2" cy="288.6" r="1.1"/><circle cx="245.5" cy="290.5" r="1.1"/><circle cx="227.3" cy="297.0" r="1.1"/><circle cx="216.9" cy="292.5" r="1.1"/><circle cx="220.4" cy="298.1" r="1.1"/><circle cx="248.3" cy="291.9" r="1.1"/><circle cx="232.0" cy="300.4" r="1.1"/><circle cx="197.0" cy="313.0" r="1.1"/><circle cx="242.8" cy="283.3" r="1.1"/><circle cx="236.4" cy="276.1" r="1.1"/><circle cx="233.7" cy="292.3" r="1.1"/><circle cx="234.4" cy="293.1" r="1.1"/><circle cx="232.6" cy="299.4" r="1.1"/><circle cx="224.8" cy="297.8" r="1.1"/><circle cx="234.4" cy="282.0" r="1.1"/><circle cx="225.1" cy="294.7" r="1.1"/><circle cx="242.2" cy="281.9" r="1.1"/><circle cx="242.5" cy="287.5" r="1.1"/><circle cx="222.2" cy="306.3" r="1.1"/><circle cx="229.6" cy="303.4" r="1.1"/><circle cx="236.8" cy="301.9" r="1.1"/><circle cx="236.7" cy="299.2" r="1.1"/><circle cx="236.3" cy="295.1" r="1.1"/><circle cx="235.0" cy="306.9" r="1.1"/><circle cx="215.4" cy="302.8" r="1.1"/><circle cx="241.4" cy="299.2" r="1.1"/><circle cx="238.6" cy="287.2" r="1.1"/><circle cx="213.9" cy="298.7" r="1.1"/><circle cx="239.6" cy="289.3" r="1.1"/><circle cx="216.2" cy="300.3" r="1.1"/><circle cx="236.2" cy="281.0" r="1.1"/><circle cx="238.8" cy="295.3" r="1.1"/><circle cx="240.5" cy="304.4" r="1.1"/><circle cx="240.8" cy="308.0" r="1.1"/><circle cx="219.7" cy="309.3" r="1.1"/><circle cx="243.9" cy="288.7" r="1.1"/><circle cx="242.0" cy="299.7" r="1.1"/><circle cx="213.4" cy="295.2" r="1.1"/><circle cx="240.1" cy="284.7" r="1.1"/><circle cx="236.7" cy="281.4" r="1.1"/><circle cx="236.5" cy="288.6" r="1.1"/><circle cx="237.7" cy="295.3" r="1.1"/><circle cx="231.6" cy="299.3" r="1.1"/><circle cx="241.9" cy="272.4" r="1.1"/><circle cx="231.4" cy="286.1" r="1.1"/><circle cx="235.4" cy="300.5" r="1.1"/><circle cx="230.0" cy="294.2" r="1.1"/><circle cx="234.0" cy="290.7" r="1.1"/><circle cx="230.5" cy="306.3" r="1.1"/><circle cx="234.1" cy="298.8" r="1.1"/><circle cx="240.3" cy="294.6" r="1.1"/><circle cx="248.1" cy="282.5" r="1.1"/><circle cx="241.9" cy="285.8" r="1.1"/><circle cx="245.6" cy="297.4" r="1.1"/><circle cx="227.5" cy="292.4" r="1.1"/><circle cx="226.8" cy="291.1" r="1.1"/><circle cx="238.5" cy="294.0" r="1.1"/><circle cx="226.5" cy="300.7" r="1.1"/><circle cx="231.9" cy="290.8" r="1.1"/><circle cx="233.6" cy="296.5" r="1.1"/><circle cx="227.8" cy="297.8" r="1.1"/><circle cx="242.2" cy="293.2" r="1.1"/><circle cx="232.0" cy="294.6" r="1.1"/><circle cx="241.5" cy="290.0" r="1.1"/><circle cx="236.8" cy="300.6" r="1.1"/><circle cx="242.7" cy="290.6" r="1.1"/><circle cx="231.4" cy="284.3" r="1.1"/><circle cx="237.0" cy="284.0" r="1.1"/><circle cx="231.5" cy="293.6" r="1.1"/><circle cx="241.9" cy="303.1" r="1.1"/><circle cx="239.1" cy="295.0" r="1.1"/><circle cx="251.5" cy="284.3" r="1.1"/><circle cx="238.5" cy="285.3" r="1.1"/><circle cx="250.4" cy="277.0" r="1.1"/><circle cx="227.5" cy="284.9" r="1.1"/><circle cx="245.7" cy="283.3" r="1.1"/><circle cx="222.0" cy="301.5" r="1.1"/><circle cx="239.4" cy="291.3" r="1.1"/><circle cx="240.6" cy="290.4" r="1.1"/><circle cx="233.7" cy="290.8" r="1.1"/><circle cx="232.2" cy="297.0" r="1.1"/><circle cx="237.9" cy="296.5" r="1.1"/><circle cx="232.5" cy="280.8" r="1.1"/><circle cx="240.0" cy="290.1" r="1.1"/><circle cx="224.0" cy="297.6" r="1.1"/><circle cx="236.6" cy="294.4" r="1.1"/><circle cx="246.1" cy="288.5" r="1.1"/><circle cx="244.3" cy="298.6" r="1.1"/><circle cx="231.0" cy="290.8" r="1.1"/><circle cx="228.8" cy="287.7" r="1.1"/><circle cx="231.7" cy="302.2" r="1.1"/><circle cx="236.3" cy="294.2" r="1.1"/><circle cx="240.1" cy="284.0" r="1.1"/><circle cx="237.2" cy="300.9" r="1.1"/><circle cx="236.5" cy="284.8" r="1.1"/><circle cx="235.4" cy="279.4" r="1.1"/><circle cx="237.1" cy="298.1" r="1.1"/><circle cx="217.6" cy="305.7" r="1.1"/><circle cx="243.1" cy="285.5" r="1.1"/><circle cx="235.0" cy="300.9" r="1.1"/><circle cx="238.7" cy="284.3" r="1.1"/><circle cx="234.3" cy="288.8" r="1.1"/><circle cx="239.6" cy="280.8" r="1.1"/><circle cx="239.0" cy="293.4" r="1.1"/><circle cx="240.2" cy="297.6" r="1.1"/><circle cx="239.0" cy="294.9" r="1.1"/><circle cx="228.8" cy="311.8" r="1.1"/><circle cx="234.5" cy="305.5" r="1.1"/><circle cx="228.4" cy="306.1" r="1.1"/><circle cx="239.7" cy="280.7" r="1.1"/><circle cx="226.9" cy="294.5" r="1.1"/><circle cx="238.4" cy="278.2" r="1.1"/><circle cx="236.4" cy="294.1" r="1.1"/><circle cx="229.8" cy="298.9" r="1.1"/><circle cx="245.3" cy="289.4" r="1.1"/><circle cx="233.8" cy="302.3" r="1.1"/><circle cx="221.7" cy="316.2" r="1.1"/><circle cx="244.6" cy="287.0" r="1.1"/><circle cx="220.0" cy="293.6" r="1.1"/><circle cx="244.1" cy="304.0" r="1.1"/><circle cx="240.7" cy="297.6" r="1.1"/><circle cx="233.9" cy="281.2" r="1.1"/><circle cx="238.9" cy="296.8" r="1.1"/><circle cx="241.8" cy="287.5" r="1.1"/><circle cx="234.6" cy="301.0" r="1.1"/><circle cx="227.6" cy="294.0" r="1.1"/><circle cx="228.1" cy="297.1" r="1.1"/><circle cx="223.6" cy="313.6" r="1.1"/><circle cx="246.0" cy="281.9" r="1.1"/><circle cx="235.4" cy="309.5" r="1.1"/><circle cx="208.5" cy="309.0" r="1.1"/><circle cx="242.8" cy="294.9" r="1.1"/><circle cx="240.4" cy="282.2" r="1.1"/><circle cx="217.6" cy="297.4" r="1.1"/><circle cx="226.9" cy="295.3" r="1.1"/><circle cx="233.3" cy="275.7" r="1.1"/><circle cx="239.8" cy="304.3" r="1.1"/><circle cx="239.8" cy="292.8" r="1.1"/><circle cx="233.4" cy="283.9" r="1.1"/><circle cx="220.4" cy="300.0" r="1.1"/><circle cx="237.3" cy="291.1" r="1.1"/><circle cx="228.9" cy="299.8" r="1.1"/><circle cx="220.3" cy="304.7" r="1.1"/><circle cx="242.4" cy="293.6" r="1.1"/><circle cx="219.9" cy="299.7" r="1.1"/><circle cx="246.4" cy="297.1" r="1.1"/><circle cx="243.9" cy="274.9" r="1.1"/><circle cx="220.1" cy="297.6" r="1.1"/><circle cx="230.2" cy="290.4" r="1.1"/><circle cx="236.0" cy="292.0" r="1.1"/><circle cx="244.2" cy="282.8" r="1.1"/><circle cx="239.5" cy="287.0" r="1.1"/><circle cx="236.2" cy="296.1" r="1.1"/><circle cx="244.8" cy="278.3" r="1.1"/><circle cx="242.5" cy="291.6" r="1.1"/><circle cx="219.9" cy="283.8" r="1.1"/><circle cx="244.8" cy="283.6" r="1.1"/><circle cx="226.4" cy="292.3" r="1.1"/><circle cx="249.3" cy="282.7" r="1.1"/><circle cx="248.1" cy="292.4" r="1.1"/><circle cx="235.7" cy="300.1" r="1.1"/><circle cx="236.4" cy="291.8" r="1.1"/><circle cx="238.8" cy="282.2" r="1.1"/><circle cx="248.7" cy="290.6" r="1.1"/><circle cx="239.9" cy="301.0" r="1.1"/><circle cx="219.3" cy="291.2" r="1.1"/><circle cx="235.0" cy="289.8" r="1.1"/><circle cx="200.2" cy="309.1" r="1.1"/><circle cx="231.2" cy="314.0" r="1.1"/><circle cx="227.3" cy="298.7" r="1.1"/><circle cx="231.1" cy="296.6" r="1.1"/><circle cx="227.3" cy="305.2" r="1.1"/><circle cx="236.3" cy="296.5" r="1.1"/><circle cx="244.0" cy="297.8" r="1.1"/><circle cx="245.2" cy="274.4" r="1.1"/><circle cx="237.6" cy="300.2" r="1.1"/><circle cx="235.0" cy="292.9" r="1.1"/><circle cx="227.2" cy="293.5" r="1.1"/><circle cx="239.2" cy="304.7" r="1.1"/><circle cx="238.3" cy="279.0" r="1.1"/><circle cx="244.0" cy="292.5" r="1.1"/><circle cx="229.7" cy="295.2" r="1.1"/><circle cx="226.6" cy="298.2" r="1.1"/><circle cx="225.9" cy="293.9" r="1.1"/><circle cx="232.8" cy="286.3" r="1.1"/><circle cx="242.3" cy="293.7" r="1.1"/><circle cx="242.1" cy="282.7" r="1.1"/><circle cx="237.6" cy="290.4" r="1.1"/><circle cx="237.9" cy="297.4" r="1.1"/><circle cx="239.5" cy="291.1" r="1.1"/><circle cx="221.4" cy="297.5" r="1.1"/><circle cx="222.9" cy="307.8" r="1.1"/><circle cx="242.3" cy="298.6" r="1.1"/><circle cx="238.2" cy="300.6" r="1.1"/><circle cx="248.5" cy="300.6" r="1.1"/><circle cx="232.3" cy="292.8" r="1.1"/><circle cx="223.8" cy="304.7" r="1.1"/><circle cx="215.3" cy="317.2" r="1.1"/><circle cx="219.0" cy="297.5" r="1.1"/><circle cx="238.1" cy="303.5" r="1.1"/><circle cx="209.6" cy="304.1" r="1.1"/><circle cx="220.5" cy="312.5" r="1.1"/><circle cx="219.0" cy="302.0" r="1.1"/><circle cx="243.0" cy="290.5" r="1.1"/><circle cx="241.7" cy="291.3" r="1.1"/><circle cx="241.9" cy="305.6" r="1.1"/><circle cx="223.1" cy="291.4" r="1.1"/><circle cx="233.9" cy="293.6" r="1.1"/><circle cx="245.3" cy="281.2" r="1.1"/><circle cx="230.5" cy="289.5" r="1.1"/><circle cx="240.2" cy="299.0" r="1.1"/><circle cx="227.4" cy="304.2" r="1.1"/><circle cx="231.7" cy="291.1" r="1.1"/><circle cx="209.6" cy="296.1" r="1.1"/><circle cx="233.1" cy="298.0" r="1.1"/><circle cx="217.5" cy="307.3" r="1.1"/><circle cx="225.5" cy="292.8" r="1.1"/><circle cx="227.5" cy="290.4" r="1.1"/><circle cx="244.4" cy="285.9" r="1.1"/><circle cx="210.8" cy="305.7" r="1.1"/><circle cx="244.4" cy="286.4" r="1.1"/><circle cx="237.8" cy="288.5" r="1.1"/><circle cx="218.8" cy="300.9" r="1.1"/><circle cx="223.0" cy="295.3" r="1.1"/><circle cx="229.8" cy="281.3" r="1.1"/><circle cx="237.7" cy="270.6" r="1.1"/><circle cx="242.6" cy="282.7" r="1.1"/><circle cx="236.8" cy="279.5" r="1.1"/><circle cx="250.2" cy="293.6" r="1.1"/><circle cx="225.0" cy="297.5" r="1.1"/><circle cx="228.4" cy="278.1" r="1.1"/><circle cx="231.4" cy="277.3" r="1.1"/><circle cx="202.0" cy="310.4" r="1.1"/><circle cx="218.4" cy="305.9" r="1.1"/><circle cx="232.1" cy="306.2" r="1.1"/><circle cx="234.6" cy="286.3" r="1.1"/><circle cx="222.6" cy="303.1" r="1.1"/><circle cx="240.4" cy="285.1" r="1.1"/><circle cx="239.2" cy="289.3" r="1.1"/><circle cx="237.4" cy="295.7" r="1.1"/><circle cx="238.6" cy="304.9" r="1.1"/><circle cx="236.9" cy="299.0" r="1.1"/><circle cx="240.1" cy="286.3" r="1.1"/><circle cx="228.8" cy="292.3" r="1.1"/><circle cx="242.4" cy="280.4" r="1.1"/><circle cx="234.5" cy="301.6" r="1.1"/><circle cx="244.8" cy="293.2" r="1.1"/><circle cx="230.1" cy="294.2" r="1.1"/><circle cx="238.4" cy="291.3" r="1.1"/><circle cx="243.3" cy="284.8" r="1.1"/><circle cx="238.5" cy="294.6" r="1.1"/><circle cx="228.1" cy="291.1" r="1.1"/><circle cx="245.1" cy="284.4" r="1.1"/><circle cx="234.1" cy="293.4" r="1.1"/><circle cx="230.2" cy="292.1" r="1.1"/><circle cx="245.8" cy="281.1" r="1.1"/><circle cx="223.6" cy="299.2" r="1.1"/><circle cx="248.4" cy="290.9" r="1.1"/><circle cx="246.0" cy="301.4" r="1.1"/><circle cx="234.9" cy="296.7" r="1.1"/><circle cx="242.3" cy="280.0" r="1.1"/><circle cx="233.0" cy="299.5" r="1.1"/><circle cx="236.2" cy="292.0" r="1.1"/><circle cx="225.4" cy="295.8" r="1.1"/><circle cx="243.3" cy="293.3" r="1.1"/><circle cx="241.9" cy="280.8" r="1.1"/><circle cx="224.5" cy="305.0" r="1.1"/><circle cx="209.8" cy="331.6" r="1.1"/><circle cx="219.6" cy="331.6" r="1.1"/><circle cx="225.4" cy="327.2" r="1.1"/><circle cx="227.9" cy="320.7" r="1.1"/><circle cx="199.1" cy="285.8" r="1.1"/><circle cx="195.8" cy="305.4" r="1.1"/><circle cx="201.5" cy="283.6" r="1.1"/><circle cx="246.8" cy="267.3" r="1.1"/><circle cx="241.0" cy="268.4" r="1.1"/><circle cx="258.3" cy="301.1" r="1.1"/><circle cx="252.6" cy="288.0" r="1.1"/><circle cx="250.9" cy="296.7" r="1.1"/></g>
<line x1="193.8" y1="311.3" x2="258.7" y2="283.2" stroke="#f05a55" stroke-width="0.9"/>
<text font-size="100" font-weight="bold" fill="#111" stroke="#111" stroke-width="1.95" transform="translate(7.09 390.05) scale(0.11707 0.13913)">D</text>
<text font-size="100" font-weight="bold" fill="#111" stroke="#111" stroke-width="2.93" transform="translate(45.36 406.36) scale(0.08375 0.08707)">siRNA:</text>
<text font-size="100" font-weight="bold" fill="#111" stroke="#111" stroke-width="2.64" transform="translate(91.55 408.40) rotate(-90) scale(0.08482 0.10423)">NS</text>
<text font-size="100" font-weight="bold" fill="#111" stroke="#111" stroke-width="2.97" transform="translate(96.36 394.37) scale(0.08389 0.08435)">hnRNP C</text>
<line x1="97.9" y1="398.4" x2="134.1" y2="398.4" stroke="#111" stroke-width="1.1"/>
<text font-size="100" font-weight="bold" fill="#111" stroke="#111" stroke-width="3.28" transform="translate(103.24 407.25) scale(0.06237 0.08986)">1</text>
<text font-size="100" font-weight="bold" fill="#111" stroke="#111" stroke-width="2.84" transform="translate(123.44 407.25) scale(0.08750 0.08857)">2</text>
<defs><filter id="bl" x="-20%" y="-50%" width="140%" height="200%"><feGaussianBlur stdDeviation="0.9"/></filter><filter id="bl2" x="-20%" y="-50%" width="140%" height="200%"><feGaussianBlur stdDeviation="0.55"/></filter></defs>
<rect x="80.2" y="411.0" width="55.0" height="58.7" fill="#bebebe"/>
<g filter="url(#bl2)"><path d="M83.6 438.6 C83.6 436.0 85.5 436.1 87.5 436.6 L97.3 437.4 L97.3 439.9 L87.5 440.7 C85.5 441.2 83.6 441.2 83.6 438.6 Z" fill="#1a1a1a"/></g><g filter="url(#bl)"><rect x="100.5" y="437.6" width="15.3" height="1.9" rx="0.9" fill="#a4a4a4"/><rect x="119" y="437.7" width="13.7" height="1.9" rx="0.9" fill="#a8a8a8"/></g>
<text font-size="100" font-weight="bold" fill="#111" stroke="#111" stroke-width="2.98" transform="translate(48.53 442.36) scale(0.08048 0.08732)">FOXM1</text>
<line x1="137.2" y1="431.3" x2="142.0" y2="431.3" stroke="#111" stroke-width="1.2"/>
<text font-size="100" font-weight="bold" fill="#111" stroke="#111" stroke-width="3.55" transform="translate(144.85 433.39) scale(0.07684 0.06395)">115 kDa</text>
<line x1="138.4" y1="448.1" x2="143.2" y2="448.1" stroke="#111" stroke-width="1.2"/>
<text font-size="100" font-weight="bold" fill="#111" stroke="#111" stroke-width="3.48" transform="translate(145.92 449.98) scale(0.07707 0.06667)">80 kDa</text>
<text font-size="100" font-weight="bold" fill="#111" stroke="#111" stroke-width="3.38" transform="translate(25.08 478.27) scale(0.07193 0.07619)">Relative FOXM1:</text>
<text font-size="100" font-weight="bold" fill="#111" stroke="#111" stroke-width="3.96" transform="translate(87.06 478.95) scale(0.04516 0.08116)">1</text>
<text font-size="100" font-weight="bold" fill="#111" stroke="#111" stroke-width="3.35" transform="translate(100.87 478.87) scale(0.07059 0.07887)">0.19</text>
<text font-size="100" font-weight="bold" fill="#111" stroke="#111" stroke-width="3.39" transform="translate(120.98 478.87) scale(0.06845 0.07887)">0.13</text>
<rect x="79.7" y="481.0" width="55.4" height="33.3" fill="#c6c6c6"/>
<g filter="url(#bl2)"><path d="M82 498 C82 493.3 84 493.2 86.2 494.1 Q90.5 495.6 94.5 494.5 C97.3 493.7 98.2 494.6 98.2 498 C98.2 501.6 97.3 502.4 94.5 501.6 Q90.5 500.5 86.2 501.9 C84 502.8 82 502.7 82 498 Z" fill="#000"/></g><g filter="url(#bl)"><rect x="100" y="495.4" width="15.6" height="5.2" rx="2" fill="#a0a0a0" stroke="#6a6a6a" stroke-width="1.2"/><rect x="118.4" y="495.4" width="15.6" height="5.2" rx="2" fill="#a4a4a4" stroke="#6e6e6e" stroke-width="1.2"/></g>
<text font-size="100" font-weight="bold" fill="#111" stroke="#111" stroke-width="2.89" transform="translate(40.67 500.86) scale(0.08341 0.08980)">hnRNP C</text>
<line x1="137.7" y1="502.2" x2="142.5" y2="502.2" stroke="#111" stroke-width="1.2"/>
<text font-size="100" font-weight="bold" fill="#111" stroke="#111" stroke-width="3.52" transform="translate(143.83 504.78) scale(0.07671 0.06531)">40 kDa</text>
<text font-size="100" font-weight="bold" fill="#111" stroke="#111" stroke-width="3.32" transform="translate(17.98 523.17) scale(0.07291 0.07755)">Relative hnRNP C:</text>
<text font-size="100" font-weight="bold" fill="#111" stroke="#111" stroke-width="3.69" transform="translate(87.89 522.95) scale(0.05591 0.07971)">1</text>
<text font-size="100" font-weight="bold" fill="#111" stroke="#111" stroke-width="3.37" transform="translate(99.17 522.87) scale(0.07078 0.07746)">0.27</text>
<text font-size="100" font-weight="bold" fill="#111" stroke="#111" stroke-width="3.43" transform="translate(119.68 522.87) scale(0.06844 0.07746)">0.3</text>
<rect x="79.6" y="525.6" width="55.9" height="18.0" fill="#cacaca"/>
<g filter="url(#bl2)" fill="#141414"><path d="M82 533 Q82 530.2 85 530.3 L98.9 529.9 L98.9 536.6 L87 537.2 Q85 537.6 84.2 539.6 Q82.4 539.6 82 536 Z"/><path d="M99.7 530.3 L117.4 530.1 L117.4 536.6 L99.7 536.8 Z"/><path d="M118.2 530.2 L134.4 530.3 Q135.2 533.3 134.4 536.5 L118.2 536.7 Z"/></g>
<text font-size="100" font-weight="bold" fill="#111" stroke="#111" stroke-width="2.78" transform="translate(49.86 533.15) scale(0.08458 0.09519)">β-actin</text>
<text font-size="100" font-weight="bold" fill="#111" stroke="#111" stroke-width="1.96" transform="translate(182.71 390.05) scale(0.11327 0.14203)">E</text>
<line x1="205.2" y1="434.6" x2="214.3" y2="434.6" stroke="#222" stroke-width="0.8" stroke-dasharray="1,1.1"/>
<line x1="225.6" y1="434.6" x2="232.2" y2="434.6" stroke="#666" stroke-width="0.9"/>
<line x1="243.8" y1="434.6" x2="251.0" y2="434.6" stroke="#666" stroke-width="0.9"/>
<rect x="214.3" y="431.0" width="11.3" height="7.5" fill="#f8f8f8" stroke="#333" stroke-width="0.9"/>
<text x="220.0" y="437.6" font-size="7.6" text-anchor="middle" stroke="#111" stroke-width="0.3">8</text>
<rect x="232.2" y="430.6" width="11.6" height="8.0" fill="#00e800" stroke="#333" stroke-width="0.9"/>
<text x="237.6" y="437.6" font-size="7.6" text-anchor="middle" stroke="#111" stroke-width="0.3">9</text>
<line x1="241.2" y1="431.0" x2="241.2" y2="438.3" stroke="#2060e0" stroke-width="1.3"/>
<rect x="251.0" y="431.0" width="21.2" height="7.5" fill="#ebebeb" stroke="#333" stroke-width="0.9"/>
<text x="261.7" y="437.6" font-size="7.6" text-anchor="middle" stroke="#111" stroke-width="0.3">10</text>
<path d="M226.6 430.5 L236 422.5 L250 430.5" fill="none" stroke="#222" stroke-width="0.75" stroke-dasharray="1.2,1"/>
<path d="M226.6 439 L229 447 L232.2 439" fill="none" stroke="#222" stroke-width="0.75" stroke-dasharray="1.2,1"/>
<path d="M243.8 439 L247.2 447 L250.5 439" fill="none" stroke="#222" stroke-width="0.75" stroke-dasharray="1.2,1"/>
<rect x="179.2" y="466.0" width="33.2" height="8.0" fill="#ececec" stroke="#333" stroke-width="0.9"/>
<line x1="190.1" y1="466.0" x2="190.1" y2="474.0" stroke="#333" stroke-width="0.9"/>
<text x="184.6" y="472.7" font-size="7.2" text-anchor="middle" stroke="#111" stroke-width="0.3">8</text>
<text x="201.7" y="472.7" font-size="7.2" text-anchor="middle" stroke="#111" stroke-width="0.3">10</text>
<rect x="254.5" y="465.8" width="45.0" height="8.0" fill="#ebebeb" stroke="#333" stroke-width="0.9"/>
<rect x="254.5" y="465.8" width="11.6" height="8.0" fill="#f8f8f8" stroke="#333" stroke-width="0.9"/>
<rect x="266.1" y="465.8" width="11.4" height="8.0" fill="#00e800" stroke="#333" stroke-width="0.9"/>
<text x="260.5" y="472.7" font-size="7.6" text-anchor="middle" stroke="#111" stroke-width="0.3">8</text>
<text x="271.8" y="472.7" font-size="7.6" text-anchor="middle" stroke="#111" stroke-width="0.3">9</text>
<text x="288.5" y="472.7" font-size="7.6" text-anchor="middle" stroke="#111" stroke-width="0.3">10</text>
<line x1="223.3" y1="447.4" x2="203.5" y2="461.2" stroke="#111" stroke-width="2.1" stroke-dasharray="4.2,2.2"/>
<path d="M204.9 456.2 L201.2 462.4 L208.9 461.9" fill="none" stroke="#111" stroke-width="1.9"/>
<line x1="253.6" y1="446.4" x2="270.6" y2="458.0" stroke="#111" stroke-width="1.1" stroke-dasharray="2.2,1.3"/>
<path d="M265.9 458.2 L271.3 458.6 L268.9 453.7" fill="none" stroke="#111" stroke-width="1.1"/>
<ellipse cx="235.8" cy="474.6" rx="15.6" ry="6.6" fill="#f07878" stroke="#444" stroke-width="0.8"/>
<text font-size="100" fill="#1a1a1a" stroke="#1a1a1a" stroke-width="5.32" transform="translate(221.68 476.79) scale(0.06764 0.06395)">hnRNP C</text>
<path d="M228 466 Q228 459 221.5 457.5" fill="none" stroke="#ee1111" stroke-width="1.2"/>
<path d="M218.8 455.4 L223.5 456.2 L221 459.8 Z" fill="#ee1111" stroke="#ee1111" stroke-width="0.5"/>
<path d="M202.7 478.3 Q201 486 207.5 490" fill="none" stroke="#ee1111" stroke-width="1.2"/>
<path d="M210 491.8 L205 491.6 L207.6 487.6 Z" fill="#ee1111" stroke="#ee1111" stroke-width="0.5"/>
<line x1="238.4" y1="465.5" x2="241.3" y2="440.5" stroke="#2277dd" stroke-width="1"/>
<path d="M236.9 462.8 L238.4 466 L240.3 463.1" fill="none" stroke="#2277dd" stroke-width="0.9"/>
<path d="M239.6 443.5 L241.4 440 L242.8 443.7" fill="none" stroke="#2277dd" stroke-width="0.9"/>
<path d="M246.4 466 Q246 457 258 454.5" fill="none" stroke="#2277dd" stroke-width="1.1"/>
<line x1="256.8" y1="451.7" x2="259.4" y2="457.5" stroke="#2277dd" stroke-width="1.1"/>
<path d="M270.6 478.8 Q273 488 263.5 492.8" fill="none" stroke="#2277dd" stroke-width="1.1"/>
<line x1="261.3" y1="491.2" x2="265.3" y2="495.2" stroke="#2277dd" stroke-width="1.1"/>
<path d="M209 496.5 L222.5 498.6 L229.1 493.1 L236.6 497.6 L260.4 498.4 L253.5 504.2 L261 512.3 L245 510.3 L243.5 516 L237.5 511.2 L211.6 517.5 L218.8 508 L209 506.3 L217.8 502.3 Z" fill="#f27f7f" stroke="#555" stroke-width="0.5"/>
<text font-size="100" font-weight="bold" fill="#111" stroke="#111" stroke-width="5.13" transform="translate(226.18 508.46) scale(0.06867 0.08732)">Cancer</text>
</svg></body></html>
